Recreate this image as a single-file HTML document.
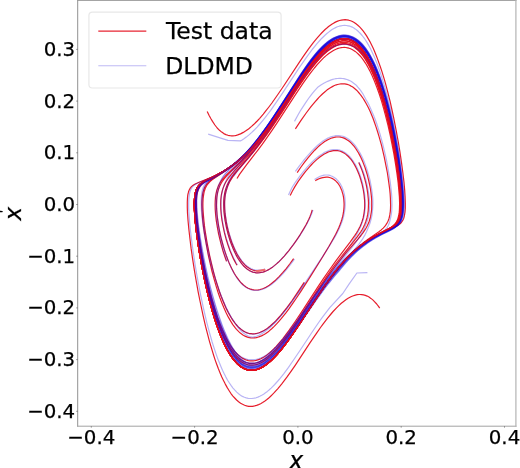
<!DOCTYPE html><html><head><meta charset="utf-8"><title>Phase portrait</title><style>html,body{margin:0;padding:0;background:#fff}svg{display:block}text{font-family:"DejaVu Sans","Liberation Sans",sans-serif;fill:#000;stroke:#000;stroke-width:0.25px}</style></head><body>
<svg width="520" height="468" viewBox="0 0 520 468">
<rect x="0" y="0" width="520" height="468" fill="#fff"/>
<clipPath id="c"><rect x="77.7" y="0.4" width="438.09999999999997" height="425.8"/></clipPath>
<g clip-path="url(#c)">
<polyline points="207.2,111.4 209.0,115.2 210.8,118.5 212.5,121.4 214.9,125.0 217.2,128.0 219.5,130.3 221.7,132.1 223.8,133.6 225.9,134.6 228.0,135.3 230.1,135.7 231.5,135.8 232.8,135.8 234.9,135.6 236.3,135.3 237.7,134.9 239.1,134.4 240.5,133.9 243.3,132.4 245.5,131.1 248.5,129.0 251.6,126.4 253.9,124.3 257.2,121.0 259.7,118.3 263.3,114.2 266.0,110.7 268.9,107.0 271.9,103.0 278.2,94.0 284.0,85.5 299.6,61.8 304.0,55.4 308.6,48.9 313.3,42.6 316.6,38.6 319.9,34.8 321.6,33.0 325.1,29.5 326.9,28.0 328.6,26.5 330.4,25.2 332.2,23.9 334.0,22.9 335.9,21.9 337.7,21.1 339.5,20.5 341.4,20.1 343.2,19.8 345.1,19.7 346.9,19.9 348.7,20.2 350.6,20.8 352.4,21.5 354.2,22.5 356.0,23.8 357.8,25.2 359.6,26.9 361.4,28.8 363.1,30.9 364.9,33.3 366.6,35.9 368.2,38.6 369.9,41.6 371.5,44.8 373.1,48.1 374.6,51.6 376.1,55.3 377.6,59.1 380.4,67.0 381.8,71.1 384.4,79.6 385.6,83.9 387.9,92.6 390.1,101.4 392.0,110.0 393.8,118.4 396.2,130.6 398.3,142.0 400.0,152.4 401.4,161.9 402.9,173.0 404.0,182.3 404.7,190.2 405.1,196.7 405.3,203.2 405.3,208.2 405.0,212.1 404.7,214.0 404.4,215.7 404.1,217.1 403.7,218.4 403.2,219.5 402.6,220.7 401.9,221.7 401.1,222.8 400.1,223.7 399.1,224.5 397.9,225.4 396.4,226.2 393.7,227.5 385.0,231.3 380.0,233.6 374.8,236.3 369.9,239.3 367.4,240.9 364.8,242.7 362.4,244.4 360.0,246.3 357.4,248.5 355.1,250.4 352.8,252.5 350.3,254.9 347.8,257.5 345.0,260.4 342.2,263.5 339.8,266.3 334.6,272.7 328.8,280.3 323.2,288.2 318.0,295.8 312.3,304.5 300.3,322.9 292.9,333.9 288.9,339.5 286.2,343.3 281.9,348.8 279.0,352.3 276.0,355.7 274.5,357.3 271.4,360.3 268.3,363.0 266.7,364.3 265.1,365.4 263.5,366.5 261.8,367.4 260.2,368.3 258.6,368.9 256.9,369.5 255.3,369.9 253.6,370.2 252.0,370.3 250.3,370.3 248.6,370.1 247.0,369.7 245.3,369.1 243.7,368.4 242.1,367.5 240.4,366.4 238.8,365.2 237.2,363.7 235.6,362.1 234.1,360.2 232.5,358.3 231.0,356.1 229.5,353.8 228.0,351.3 226.6,348.6 225.1,345.8 223.7,342.9 222.4,339.9 219.7,333.4 218.5,330.1 216.0,323.1 213.7,315.9 211.6,308.5 209.6,301.1 207.7,293.7 206.0,286.4 204.4,279.2 203.0,272.3 201.1,262.4 199.5,253.3 198.2,244.9 197.1,237.3 196.0,228.3 195.4,222.5 194.8,215.7 194.4,210.1 194.3,204.3 194.4,200.6 194.6,197.4 195.0,194.8 195.4,192.7 196.0,190.4 196.8,188.6 197.6,187.1 198.7,185.6 199.7,184.6 200.7,183.7 202.0,182.8 203.5,181.8 206.3,180.2 215.3,175.8 220.4,173.1 223.3,171.4 226.0,169.7 228.5,168.1 231.1,166.3 233.9,164.2 236.3,162.3 238.9,160.1 241.2,158.2 244.1,155.5 246.6,153.0 251.4,148.0 255.5,143.3 259.3,138.7 263.4,133.4 267.9,127.5 272.7,120.7 278.0,113.0 282.7,105.8 296.9,84.1 300.6,78.5 304.4,72.9 308.5,67.3 312.7,61.8 317.0,56.5 320.0,53.1 323.1,50.0 324.6,48.5 327.8,45.8 329.4,44.5 331.0,43.4 332.6,42.4 334.2,41.5 335.9,40.7 337.5,40.0 339.1,39.4 340.8,39.1 342.4,38.8 344.1,38.7 345.8,38.8 347.4,39.0 349.1,39.4 350.7,40.0 352.4,40.7 354.0,41.7 355.6,42.8 357.2,44.1 358.8,45.6 360.4,47.2 362.0,49.1 363.5,51.1 365.0,53.3 366.5,55.6 368.0,58.2 369.4,60.8 370.9,63.6 372.3,66.6 373.6,69.6 376.3,76.1 377.5,79.5 380.0,86.5 381.1,90.1 383.3,97.4 385.4,104.8 387.3,112.2 389.1,119.6 390.7,126.8 392.2,133.8 394.2,143.8 395.3,150.2 396.8,159.1 398.0,167.2 399.1,174.5 399.9,181.0 400.6,188.6 401.1,195.0 401.4,200.4 401.5,204.8 401.4,208.6 401.1,212.4 400.6,215.4 400.0,217.8 399.6,219.0 399.1,220.1 398.7,221.1 398.0,222.2 396.7,223.8 395.7,224.8 394.7,225.6 393.4,226.6 391.8,227.5 388.9,229.1 381.8,232.5 378.1,234.5 374.0,236.7 370.4,238.9 366.8,241.2 363.4,243.6 360.2,246.1 356.8,248.9" fill="none" stroke="#e40c1c" stroke-opacity="0.93" stroke-width="1.2" stroke-linejoin="round"/>
<polyline points="208.2,134.1 227.9,140.4 240.4,140.9 241.7,140.2 243.6,139.0 246.3,137.1 249.0,134.9 251.8,132.4 254.0,130.3 257.1,127.1 259.4,124.5 262.7,120.6 265.3,117.4 267.9,114.0 270.7,110.3 273.6,106.2 277.6,100.4 283.0,92.4 299.1,67.9 303.3,61.8 307.7,55.6 312.2,49.5 317.0,43.6 320.2,40.0 321.9,38.2 325.2,35.0 326.9,33.5 328.7,32.1 330.4,30.8 332.1,29.6 333.9,28.5 335.6,27.6 337.4,26.8 339.2,26.2 341.0,25.8 342.8,25.5 344.6,25.4 346.3,25.5 348.1,25.8 349.9,26.2 351.7,26.9 353.5,27.8 355.2,28.9 357.0,30.3 358.7,31.8 360.4,33.5 362.1,35.5 363.8,37.7 365.5,40.0 367.1,42.6 368.7,45.4 370.3,48.3 371.8,51.4 373.3,54.7 374.8,58.1 376.3,61.7 377.7,65.3 380.4,73.0 381.7,77.0 384.2,85.1 385.4,89.2 387.6,97.5 390.7,110.0 392.5,118.1 394.1,126.1 395.6,133.7 397.6,144.5 399.3,154.5 400.6,163.5 401.7,171.6 402.6,178.8 403.3,185.2 403.9,192.4 404.3,198.4 404.4,203.4 404.4,207.4 404.1,211.5 403.7,214.7 403.1,217.2 402.7,218.5 402.1,219.9 401.6,220.9 401.0,222.0 400.2,222.9 399.5,223.7 398.7,224.4 397.7,225.2 395.8,226.5 393.3,227.8 382.6,232.6 377.1,235.3 371.9,238.2 367.0,241.3 364.0,243.4 361.2,245.4 358.2,247.8 355.5,250.0 352.7,252.5 349.6,255.3 347.0,258.0 344.2,260.9 340.0,265.5 335.4,270.8 331.1,276.1 327.2,281.0 322.3,287.7 316.8,295.3 310.9,303.9 298.6,322.1 293.5,329.3 289.5,334.8 284.0,342.1 279.7,347.4 275.2,352.4 272.2,355.5 269.2,358.4 267.7,359.6 264.6,362.0 263.1,363.0 261.6,363.9 260.1,364.7 258.6,365.4 257.2,365.9 255.7,366.3 254.4,366.6 253.0,366.8 250.3,366.8 249.1,366.6 247.7,366.3 246.4,365.9 245.0,365.3 243.6,364.5 242.2,363.6 240.7,362.5 239.3,361.1 237.8,359.7 236.3,358.0 234.8,356.1 233.4,354.0 231.9,351.8 230.4,349.4 229.0,346.8 227.6,344.1 226.2,341.3 223.4,335.2 220.8,328.6 218.3,321.8 217.1,318.2 214.8,311.0 212.6,303.7 209.7,292.6 207.0,281.8 204.8,271.5 202.2,258.5 200.2,246.9 198.6,236.7 197.2,225.8 196.2,217.0 195.9,212.5 195.7,208.6 195.6,205.2 195.6,201.3 195.7,198.1 195.9,195.5 196.2,193.8 196.6,191.9 197.1,190.3 197.6,189.0 198.2,187.8 199.0,186.6 199.9,185.6 201.0,184.5 202.9,183.1 205.3,181.6 207.7,180.3 215.9,176.1 221.0,173.2 226.3,169.9 230.9,166.7 233.6,164.6 236.5,162.3 239.0,160.1 241.7,157.6 244.1,155.4 246.5,152.9 249.1,150.1 251.8,147.0 255.9,142.1 259.6,137.3 265.1,129.9 270.5,122.4 274.7,116.2 279.2,109.4 293.8,86.8 299.9,77.6 303.7,72.0 307.7,66.3 311.9,60.7 314.7,57.1 317.7,53.6 319.2,51.9 322.3,48.7 325.5,45.7 327.1,44.4 328.7,43.1 330.4,41.9 332.0,40.9 333.7,39.9 335.4,39.0 337.2,38.3 339.0,37.7 340.7,37.3 342.5,37.1 344.3,37.0 346.2,37.1 348.0,37.4 349.8,37.8 351.6,38.5 353.4,39.4 355.2,40.4 356.9,41.7 358.6,43.1 360.2,44.7 361.9,46.4 363.5,48.4 365.0,50.5 366.6,52.8 368.1,55.2 369.6,57.8 371.0,60.5 372.5,63.4 373.8,66.4 375.2,69.5 377.8,76.1 379.1,79.5 381.5,86.6 382.6,90.2 384.8,97.6 386.8,105.0 388.7,112.5 390.4,119.8 392.0,127.1 393.4,134.1 395.3,144.1 396.5,150.5 397.9,159.3 399.1,167.4 400.3,177.0 401.0,183.2 401.7,190.5 402.1,196.6 402.3,201.7 402.3,206.0 402.1,210.4 401.7,213.2 401.3,215.6 400.8,217.6 400.2,219.3 399.5,220.8 398.6,222.3 397.7,223.6 396.4,224.8 395.4,225.7 394.3,226.6 392.9,227.4 391.5,228.2 388.8,229.6 379.1,234.3 375.4,236.2 372.2,238.1 369.1,240.0 365.8,242.1 362.6,244.3 359.8,246.5 356.2,249.3 352.9,252.2 349.4,255.5 346.2,258.6 342.7,262.3 339.0,266.3 335.0,271.0 331.4,275.3" fill="none" stroke="#1808dc" stroke-opacity="0.3" stroke-width="1.2" stroke-linejoin="round"/>
<polyline points="379.7,308.2 378.7,306.7 376.7,304.0 374.7,301.8 372.8,299.9 370.9,298.4 369.0,297.1 367.2,296.1 365.3,295.4 363.5,294.9 361.7,294.6 359.9,294.5 359.0,294.5 357.2,294.7 355.4,295.1 352.7,296.0 350.9,296.8 348.1,298.3 346.2,299.5 343.3,301.7 341.3,303.3 338.3,306.1 336.3,308.1 333.1,311.5 331.0,314.0 327.6,318.1 323.0,324.2 320.5,327.5 316.8,332.9 310.1,342.7 295.2,365.3 290.3,372.4 286.9,377.2 281.6,384.1 277.9,388.6 274.2,392.7 272.3,394.6 270.4,396.5 268.5,398.2 266.6,399.8 264.6,401.2 262.6,402.5 260.6,403.7 258.6,404.6 256.6,405.4 254.6,405.9 252.6,406.3 250.6,406.4 248.6,406.3 246.6,405.9 244.6,405.2 242.6,404.3 240.6,403.2 238.6,401.7 236.6,400.0 234.7,398.0 232.7,395.8 230.8,393.3 229.0,390.5 227.1,387.4 225.3,384.1 223.5,380.6 221.8,376.9 220.1,372.9 218.4,368.8 216.8,364.5 215.2,360.1 213.7,355.5 210.8,345.9 209.4,341.1 206.8,331.2 205.5,326.2 203.2,316.2 200.1,301.5 198.2,292.1 195.8,278.7 194.4,270.3 192.6,258.8 191.1,248.4 190.0,239.3 188.8,228.8 188.0,220.2 187.5,213.2 187.3,207.5 187.3,202.0 187.5,197.7 187.7,195.7 188.0,193.9 188.4,192.5 188.7,191.2 189.2,190.1 189.8,188.9 190.4,187.9 191.1,187.0 192.0,186.1 193.1,185.2 194.3,184.5 195.7,183.7 199.0,182.3 208.3,178.6 212.9,176.7 215.7,175.3 218.4,174.0 221.2,172.5 223.8,171.0 226.6,169.3 229.1,167.6 231.7,165.8 234.1,164.0 236.6,162.0 239.2,159.9 243.9,155.6 246.4,153.2 249.0,150.5 251.8,147.5 254.7,144.2 257.8,140.5 260.4,137.3 266.1,129.9 271.6,122.3 276.7,114.8 282.3,106.3 296.4,84.7 300.1,79.2 304.0,73.6 308.0,68.0 310.7,64.3 315.0,58.8 318.0,55.4 321.0,52.1 322.5,50.5 325.6,47.6 328.8,44.9 330.4,43.8 332.0,42.7 333.6,41.7 335.3,40.9 336.9,40.2 338.5,39.6 340.2,39.1 341.8,38.8 343.5,38.7 345.2,38.7 346.8,38.9 348.5,39.2 350.1,39.7 351.8,40.4 353.4,41.3 355.0,42.3 356.6,43.6 358.2,45.0 359.8,46.6 361.4,48.4 362.9,50.3 364.5,52.4 366.0,54.7 367.5,57.2 368.9,59.8 370.4,62.6 371.8,65.4 373.1,68.5 374.5,71.6 377.1,78.2 378.3,81.6 380.7,88.7 382.9,96.0 385.0,103.4 387.0,110.8 388.8,118.2 390.4,125.5 392.7,136.0 394.0,142.7 395.7,152.1 397.1,160.8 398.3,168.8 399.5,178.1 400.4,186.1 401.0,192.9 401.4,198.6 401.5,204.5 401.4,209.1 401.1,212.1 400.8,214.6 400.3,216.7 399.8,218.5 399.1,220.3 398.2,221.8 397.1,223.3 396.0,224.5 394.9,225.4 393.9,226.2 391.2,227.9 388.5,229.3 379.4,233.8 376.1,235.5 373.2,237.2 368.4,240.1 363.6,243.5 360.8,245.6 357.8,248.0 354.7,250.8 351.8,253.4 348.8,256.4 346.2,259.1 343.4,262.2 340.4,265.6 335.9,271.0 331.8,276.3 327.3,282.4 323.3,288.1 319.8,293.1 315.2,300.0 298.0,326.4 292.9,333.8 289.0,339.4 284.8,345.0 282.0,348.6 277.6,353.9 274.6,357.1 271.5,360.2 269.9,361.6 266.8,364.2 265.2,365.4 263.6,366.4 261.9,367.4 260.3,368.2 258.7,368.9 257.0,369.4 255.4,369.9 253.7,370.2 252.1,370.3 250.4,370.3 248.7,370.1 247.1,369.7 245.4,369.2 243.8,368.4 242.2,367.5 240.5,366.5 238.9,365.2 237.3,363.8 235.7,362.1 234.2,360.3 232.6,358.3 231.1,356.2 229.6,353.9 228.1,351.4 226.7,348.8 225.2,346.0 223.8,343.1 221.1,336.9 219.8,333.6 217.3,326.8 216.1,323.3 213.8,316.1 211.6,308.7 209.6,301.3 207.8,293.9 206.1,286.6 204.5,279.5 203.1,272.5 201.8,265.9 200.1,256.4 198.6,247.7 197.5,239.9 196.5,232.7 195.8,226.4 195.2,220.8 194.7,214.3 194.4,208.9 194.3,203.4 194.4,199.8 194.7,196.8 195.1,194.3 195.6,191.7 196.3,189.7 197.3,187.7 198.3,186.1 199.7,184.6 200.5,183.9 201.5,183.1 204.0,181.5 206.6,180.1 214.7,176.1 219.5,173.6 224.3,170.8 228.9,167.9 231.5,166.0 233.9,164.3 238.5,160.5 243.1,156.4 247.6,152.0" fill="none" stroke="#e40c1c" stroke-opacity="0.93" stroke-width="1.2" stroke-linejoin="round"/>
<polyline points="367.4,272.7 356.9,273.0 349.2,283.8 342.8,293.5 330.0,307.3 326.9,311.3 322.5,317.1 319.0,322.0 314.2,329.0 299.3,351.5 293.2,360.5 288.5,367.4 283.5,374.1 280.1,378.4 278.3,380.5 274.7,384.5 272.9,386.3 271.1,388.1 269.3,389.8 267.4,391.4 265.5,392.8 263.6,394.2 261.7,395.3 259.8,396.3 257.9,397.1 256.0,397.8 254.0,398.2 252.1,398.5 250.2,398.5 248.2,398.3 246.3,397.9 244.4,397.3 242.4,396.4 240.5,395.2 238.6,393.8 236.7,392.1 234.9,390.2 233.0,388.1 231.2,385.7 229.4,383.0 227.6,380.2 225.9,377.1 224.2,373.7 222.5,370.2 220.9,366.5 219.3,362.6 217.7,358.6 216.2,354.4 213.3,345.7 211.9,341.2 209.3,332.0 206.8,322.6 205.7,317.9 203.5,308.5 200.6,294.8 198.1,281.8 196.6,273.5 195.3,265.8 193.1,251.7 192.3,245.4 191.2,236.8 190.3,229.3 189.7,222.8 189.2,217.1 188.9,212.3 188.7,208.1 188.7,203.5 188.8,199.7 189.1,196.7 189.5,193.7 190.1,191.4 190.5,190.2 191.0,189.2 191.5,188.4 192.1,187.4 192.8,186.5 193.6,185.8 194.5,185.1 195.5,184.4 196.8,183.7 198.5,182.9 209.5,178.4 213.0,176.8 216.1,175.3 219.8,173.4 223.3,171.4 226.3,169.5 229.6,167.3 232.2,165.4 234.6,163.6 237.1,161.5 239.2,159.6 241.5,157.6 243.9,155.3 248.4,150.7 252.8,145.8 257.5,140.0 263.5,132.1 268.7,124.9 272.8,119.1 278.1,111.2 293.6,87.2 300.8,76.2 304.7,70.5 308.7,64.8 311.5,61.1 314.4,57.4 317.3,53.9 318.8,52.2 321.9,49.0 323.5,47.4 326.7,44.6 328.3,43.3 329.9,42.1 331.6,41.0 333.3,40.0 335.0,39.1 336.8,38.3 338.5,37.7 340.3,37.3 342.1,37.0 344.0,36.8 345.8,36.9 347.6,37.1 349.5,37.6 351.3,38.2 353.1,39.0 354.8,40.0 356.6,41.2 358.3,42.6 360.0,44.2 361.6,45.9 363.2,47.8 364.8,49.9 366.4,52.1 367.9,54.5 369.4,57.1 370.8,59.8 372.3,62.7 373.7,65.6 375.1,68.7 377.7,75.3 378.9,78.7 381.4,85.7 383.6,93.0 384.7,96.7 386.8,104.1 389.6,115.3 392.0,126.2 394.2,136.7 396.0,146.6 398.0,158.7 399.9,171.8 401.2,182.8 402.1,191.7 402.4,196.3 402.5,200.2 402.6,203.7 402.5,206.8 402.4,209.4 402.1,212.4 401.8,214.4 401.4,216.6 401.0,218.1 400.4,219.7 399.9,220.8 399.2,222.1 398.4,223.2 397.6,224.2 396.8,225.1 395.7,226.0 393.7,227.5 391.1,229.0 388.6,230.2 380.8,234.0 375.1,237.0 370.5,239.8 365.9,242.9 363.2,244.8 360.3,247.0 357.8,249.1 355.1,251.4 352.2,254.1 349.7,256.5 344.8,261.6 340.7,266.2 333.3,275.0 328.8,280.7 323.9,287.2 319.4,293.4 314.6,300.2 300.5,321.0 296.8,326.4 291.6,333.6 286.1,341.0 281.8,346.4 277.4,351.6 274.4,354.8 272.8,356.3 269.8,359.2 266.6,361.8 265.1,362.9 263.5,364.0 262.0,364.9 260.4,365.7 258.9,366.4 257.4,367.0 255.9,367.4 254.4,367.7 253.0,367.9 250.1,367.8 248.7,367.7 247.3,367.3 245.9,366.8 244.4,366.2 242.9,365.3 241.4,364.3 239.9,363.1 238.4,361.8 236.9,360.2 235.4,358.4 233.8,356.5 232.4,354.4 230.9,352.1 229.4,349.7 227.9,347.1 226.5,344.3 225.1,341.4 222.4,335.3 221.1,332.0 218.5,325.2 217.3,321.7 214.9,314.6 213.8,310.9 211.7,303.6 209.7,296.2 207.8,288.9 206.1,281.7 204.6,274.7 203.2,268.0 201.4,258.4 200.3,252.4 199.0,244.1 197.9,236.6 197.0,229.8 196.3,223.8 195.8,218.5 195.4,213.8 195.1,208.5 195.0,203.1 195.1,199.6 195.3,196.6 195.7,193.7 196.0,192.2 196.5,190.5 197.1,189.1 197.7,187.8 198.4,186.8 199.3,185.7 200.2,184.7 201.2,183.8 203.1,182.5 205.4,181.1 215.5,175.9 220.3,173.3 224.8,170.6 228.6,168.0 231.2,166.2 233.5,164.4 238.1,160.7 242.6,156.6 245.0,154.2 247.5,151.6 251.7,146.8 255.8,141.9 259.5,137.1 265.8,128.7 270.4,122.1 275.5,114.7 281.0,106.2 288.2,95.2" fill="none" stroke="#1808dc" stroke-opacity="0.3" stroke-width="1.2" stroke-linejoin="round"/>
<polyline points="295.4,128.8 301.0,120.4 306.2,113.0 311.0,106.7 315.0,101.8 317.1,99.5 319.2,97.2 322.4,94.0 324.7,92.0 326.9,90.1 329.2,88.5 330.4,87.7 332.8,86.4 333.9,85.8 336.3,84.8 337.5,84.5 339.9,84.0 341.1,83.8 342.3,83.8 343.5,83.8 344.8,83.9 346.0,84.1 347.2,84.4 348.4,84.8 349.6,85.3 350.7,85.9 351.9,86.6 353.1,87.3 354.3,88.2 356.6,90.2 357.7,91.4 359.9,94.0 361.0,95.4 363.2,98.5 364.2,100.1 366.3,103.7 368.3,107.5 370.2,111.6 372.9,118.0 374.5,122.5 376.1,127.1 377.6,131.8 379.0,136.4 381.6,145.7 382.7,150.3 384.2,156.9 386.3,167.3 387.4,173.0 388.2,178.4 388.9,183.3 389.7,189.4 390.1,193.4 390.4,198.3 390.5,201.5 390.6,205.3 390.5,208.7 390.3,211.6 389.9,214.2 389.4,217.0 389.0,218.4 388.4,220.2 387.7,221.7 387.0,223.1 386.2,224.4 385.4,225.6 384.3,226.9 383.2,228.1 381.2,229.9 378.6,231.9 368.4,239.1 364.0,242.3 360.1,245.5 356.7,248.3 352.1,252.6 347.6,257.1 343.2,261.9 338.4,267.5 334.5,272.4 331.0,276.9 326.5,283.1 322.4,288.9 315.2,299.6 298.0,325.9 293.0,333.3 289.1,338.9 284.9,344.5 280.7,349.9 277.7,353.3 276.2,355.0 273.2,358.2 270.1,361.1 268.5,362.4 266.9,363.7 265.3,364.8 263.7,365.9 262.1,366.8 260.5,367.7 258.8,368.4 257.2,369.0 255.6,369.4 253.9,369.7 252.3,369.9 250.6,369.9 249.0,369.7 247.3,369.3 245.7,368.8 244.0,368.1 242.4,367.3 240.8,366.2 239.2,365.0 237.6,363.6 236.0,362.0 234.4,360.2 232.9,358.2 231.3,356.1 229.8,353.8 228.4,351.4 226.9,348.8 225.5,346.0 224.1,343.2 222.7,340.1 221.4,337.0 218.8,330.4 217.5,327.0 215.2,320.0 214.0,316.4 211.9,309.0 208.9,297.9 207.1,290.6 205.4,283.4 203.9,276.3 201.9,266.2 200.2,256.8 198.8,248.1 197.6,240.2 196.4,230.9 195.7,224.7 195.0,217.7 194.6,211.7 194.4,206.7 194.4,202.6 194.6,198.3 195.0,195.0 195.3,193.3 195.7,191.8 196.1,190.5 196.5,189.4 197.0,188.4 197.7,187.2 198.4,186.1 199.1,185.3 199.9,184.5 200.9,183.6 202.9,182.2 205.2,180.8 207.6,179.6 215.9,175.5 221.4,172.5 226.1,169.7 230.8,166.5 233.5,164.5 236.4,162.2 239.0,160.1 241.8,157.7 244.6,155.0 247.2,152.4 252.1,147.2 256.3,142.4 260.8,136.9 265.7,130.4 270.4,124.0 274.5,118.0 279.0,111.3 294.7,87.4 299.5,80.1 304.7,72.6 308.7,67.0 312.9,61.5 317.3,56.2 320.3,52.9 321.8,51.3 324.9,48.3 328.0,45.6 329.6,44.4 331.2,43.2 332.9,42.2 334.5,41.3 336.1,40.5 337.8,39.9 339.4,39.4 341.1,39.0 342.7,38.8 344.4,38.7 346.0,38.8 347.7,39.1 349.3,39.5 351.0,40.1 352.6,40.9 354.3,41.8 355.9,43.0 357.5,44.3 359.1,45.8 360.7,47.5 362.2,49.4 363.8,51.5 365.3,53.7 366.8,56.0 368.2,58.6 369.7,61.3 371.1,64.1 373.8,70.1 376.5,76.6 377.7,80.0 380.1,87.1 382.4,94.3 383.5,98.0 385.6,105.4 388.4,116.5 390.8,127.4 392.3,134.4 393.6,141.1 395.9,153.7 397.7,165.0 399.4,177.1 400.5,187.1 400.9,192.2 401.2,196.7 401.4,200.6 401.5,204.0 401.5,206.9 401.3,210.3 401.0,213.1 400.6,215.5 400.1,217.4 399.4,219.5 399.0,220.5 398.3,221.7 397.8,222.5 397.0,223.4 396.3,224.3 395.5,225.0 393.5,226.4 392.0,227.4 390.1,228.4 380.1,233.4 377.1,235.0 374.3,236.5 371.4,238.3 368.6,240.0 365.7,242.0 363.0,244.0 358.5,247.5 354.0,251.4 349.6,255.6 345.3,260.0 340.7,265.3 336.2,270.6 331.4,276.8 326.1,284.1 322.0,290.0 316.6,297.9 300.9,322.0 294.8,331.1 289.6,338.6 286.8,342.3 284.1,346.0 281.2,349.6 278.3,353.1 275.2,356.4 272.2,359.5 269.1,362.4 267.5,363.7 265.9,364.9 264.3,366.0 262.6,367.0 261.0,367.8 259.4,368.6 257.7,369.2 256.1,369.7 254.4,370.1 252.8,370.2 251.1,370.3 249.5,370.2 247.8,369.9 246.2,369.4 244.5,368.8 242.9,368.0 241.2,367.0 239.6,365.8 238.0,364.4 236.4,362.9 234.9,361.1 233.3,359.2 231.8,357.2 230.3,354.9 228.8,352.5 227.3,349.9 225.9,347.2 224.4,344.4 223.1,341.4 220.4,335.1 217.8,328.3 215.4,321.3" fill="none" stroke="#e40c1c" stroke-opacity="0.93" stroke-width="1.2" stroke-linejoin="round"/>
<polyline points="294.5,121.4 298.1,114.8 300.4,110.7 301.3,109.4 305.7,102.6 308.5,98.5 310.5,95.9 312.6,93.2 314.7,90.6 318.1,86.9 320.9,85.0 323.8,83.3 326.7,81.8 328.2,81.1 331.2,79.9 332.8,79.4 334.3,79.0 335.9,78.7 337.5,78.5 339.1,78.4 340.8,78.4 342.3,78.5 343.9,78.7 345.5,79.1 347.0,79.5 348.5,80.1 350.0,80.7 351.4,81.5 352.7,82.4 354.0,83.4 355.3,84.4 356.5,85.5 357.6,86.8 359.9,89.5 360.9,90.9 363.0,94.0 363.9,95.7 365.8,99.3 367.9,102.9 368.9,104.8 370.8,108.9 373.5,115.3 375.3,119.7 376.9,124.3 378.4,129.0 379.9,133.7 381.2,138.4 382.5,143.1 383.6,147.7 385.2,154.4 386.2,158.8 387.4,165.0 388.4,170.9 389.6,178.2 390.4,183.2 390.9,187.8 391.4,192.0 391.8,197.0 391.9,200.4 392.0,204.4 391.9,208.0 391.7,211.1 391.4,213.9 390.9,216.5 389.6,221.9 389.2,223.3 388.7,224.6 388.1,225.8 387.3,227.1 386.5,228.3 385.6,229.3 384.1,230.5 382.0,232.0 372.6,237.6 367.1,241.1 362.5,244.4 357.9,248.0 355.2,250.3 352.4,252.8 349.8,255.2 347.2,257.8 342.1,263.2 336.3,269.7 332.8,273.9 329.0,278.6 325.0,283.8 320.7,289.6 317.0,294.7 312.1,301.7 298.8,321.2 292.4,330.1 286.9,337.4 282.7,342.8 278.4,348.0 273.9,352.9 270.9,355.9 267.8,358.5 266.3,359.8 263.3,362.0 261.8,362.9 260.3,363.7 258.9,364.4 257.5,364.9 256.1,365.4 254.7,365.7 253.3,365.8 250.8,365.9 249.5,365.8 248.3,365.6 247.0,365.2 245.7,364.7 244.4,364.0 243.0,363.1 241.6,362.1 240.1,360.8 238.7,359.5 237.3,357.8 235.8,356.0 234.3,354.1 232.9,351.9 231.4,349.6 230.0,347.1 228.6,344.5 227.2,341.7 224.4,335.7 223.1,332.6 220.5,326.0 219.3,322.5 216.9,315.5 215.7,311.9 213.5,304.6 211.5,297.3 209.6,290.0 207.8,282.9 206.2,275.9 204.7,269.1 202.8,259.5 201.2,250.6 199.9,242.5 198.8,235.1 197.9,228.5 197.2,222.7 196.5,216.0 196.1,210.3 195.9,205.6 195.9,200.8 196.0,197.7 196.3,194.6 196.6,193.0 196.9,191.7 197.7,189.5 198.1,188.6 198.7,187.5 199.4,186.6 200.1,185.7 200.8,185.0 201.7,184.2 203.4,183.0 205.6,181.6 215.4,176.5 220.1,173.9 225.6,170.5 230.2,167.3 232.9,165.3 235.3,163.4 237.7,161.2 240.3,158.9 242.6,156.7 245.0,154.3 247.5,151.7 250.1,148.8 253.9,144.2 258.1,138.8 264.9,129.7 270.2,122.2 273.5,117.3 277.9,110.6 293.5,86.5 300.7,75.5 304.6,69.8 308.6,64.1 312.8,58.5 317.3,53.1 320.3,49.8 321.9,48.2 325.0,45.2 326.7,43.8 328.3,42.5 330.0,41.3 331.7,40.2 333.4,39.2 335.2,38.4 337.0,37.6 338.8,37.0 340.6,36.6 342.5,36.3 344.4,36.2 346.3,36.3 348.2,36.6 350.1,37.1 351.9,37.8 353.8,38.7 355.6,39.8 357.3,41.1 359.1,42.5 360.8,44.2 362.4,46.0 364.0,48.0 365.6,50.1 367.2,52.4 368.7,54.9 370.2,57.5 371.7,60.2 373.1,63.1 374.5,66.2 377.2,72.5 378.4,75.9 380.9,82.8 383.2,90.0 384.3,93.7 386.4,101.2 389.3,112.4 391.8,123.4 393.3,130.5 394.6,137.4 397.0,150.4 398.8,162.1 400.5,174.7 401.3,181.2 401.9,187.0 402.3,192.1 402.6,196.6 402.7,200.5 402.8,204.0 402.7,207.0 402.5,209.6 402.2,212.6 401.8,215.1 401.2,217.2 400.6,219.0 400.2,220.2 399.6,221.2 398.5,223.0 397.9,223.8 397.1,224.7 396.2,225.5 395.1,226.3 393.1,227.7 390.7,229.0 381.2,233.5 375.5,236.4 370.9,239.1 366.2,242.0 363.5,243.9 360.7,246.0 358.1,248.0 355.4,250.2 352.5,252.7 350.0,255.0 345.1,259.8 340.3,264.9 334.3,271.8 329.0,278.1 324.1,284.4 318.7,291.5 313.9,298.2 308.7,305.5 297.2,322.1 289.3,332.8 285.2,338.2 282.3,341.8 279.4,345.3 276.5,348.7 273.5,351.8 270.5,354.8 267.5,357.5 265.9,358.7 264.4,359.8 261.5,361.7 260.1,362.5 258.7,363.2 257.4,363.7 256.0,364.2 254.8,364.5 253.5,364.6 252.3,364.7 250.2,364.7 249.0,364.5 247.8,364.2 246.7,363.9 245.5,363.3 244.2,362.6 242.8,361.7 241.5,360.6 240.1,359.3 238.7,357.8 237.2,356.2 235.8,354.3 234.3,352.3 232.9,350.1 231.4,347.7 230.0,345.1 228.6,342.4 227.2,339.6 224.4,333.4 221.8,326.9 219.2,320.1" fill="none" stroke="#1808dc" stroke-opacity="0.3" stroke-width="1.2" stroke-linejoin="round"/>
<polyline points="297.2,172.6 301.0,167.0 304.6,162.1 308.2,157.6 311.6,153.6 314.7,150.2 318.1,146.9 319.9,145.3 321.7,143.9 324.7,141.6 326.6,140.4 327.9,139.7 330.5,138.5 332.5,137.8 333.9,137.5 335.2,137.2 336.6,137.0 337.9,137.0 339.3,137.0 340.6,137.2 341.9,137.5 343.3,137.9 344.6,138.4 345.9,139.1 347.2,139.9 348.5,140.8 349.8,141.8 351.0,142.9 352.8,144.8 354.0,146.2 355.7,148.5 356.8,150.2 358.4,152.8 359.4,154.6 360.9,157.5 361.8,159.5 363.1,162.6 365.1,167.8 366.1,171.0 367.1,174.2 367.9,177.4 368.7,180.5 370.0,186.6 370.5,189.5 371.0,193.2 371.3,195.8 371.6,199.2 371.7,201.6 371.7,204.7 371.7,206.8 371.6,209.5 371.3,212.1 370.9,214.5 370.5,216.7 370.0,218.8 369.5,220.3 368.9,222.3 368.1,224.1 367.3,225.8 366.4,227.5 365.4,229.2 363.3,232.4 361.0,235.5 358.4,238.7 347.5,251.2 342.0,257.8 337.0,264.1 331.9,270.8 326.3,278.6 320.1,287.8 313.9,297.0 299.5,319.2 292.3,329.9 288.4,335.3 284.4,340.6 280.3,345.8 277.4,349.1 274.5,352.3 273.0,353.8 270.0,356.6 268.5,357.9 265.4,360.2 263.8,361.2 262.3,362.2 260.7,363.0 259.1,363.7 257.5,364.3 255.9,364.7 254.3,365.0 252.7,365.2 251.1,365.2 249.5,365.1 247.9,364.8 246.3,364.3 244.7,363.7 243.1,362.9 241.5,361.9 239.9,360.8 238.4,359.5 236.8,358.0 235.3,356.4 233.8,354.6 232.3,352.6 230.8,350.5 229.4,348.2 228.0,345.8 226.6,343.2 225.2,340.5 222.5,334.7 221.3,331.7 218.8,325.3 217.6,322.0 215.3,315.2 213.2,308.2 211.2,301.1 209.3,294.0 207.6,287.0 206.0,280.1 203.9,270.1 202.1,260.7 200.5,251.9 199.2,243.8 197.8,234.2 197.0,227.8 196.3,220.4 195.8,214.1 195.5,207.6 195.4,203.3 195.6,199.0 196.0,195.5 196.3,193.7 196.6,192.2 197.0,190.8 197.6,189.3 198.0,188.2 198.7,187.0 199.4,186.0 200.2,185.1 201.0,184.3 202.0,183.3 204.0,181.9 206.3,180.5 208.8,179.2 217.0,175.0 222.2,172.1 227.0,169.2 231.8,165.9 234.5,163.8 237.0,161.8 239.7,159.5 242.4,157.1 245.4,154.3 247.9,151.7 250.6,148.8 252.9,146.3 257.1,141.4 261.8,135.6 266.1,130.0 270.7,123.5 274.9,117.5 279.4,110.8 298.8,81.2 303.9,73.7 307.9,68.1 310.7,64.4 313.5,60.7 317.9,55.5 320.9,52.2 322.4,50.6 325.5,47.7 328.7,45.1 330.3,43.9 331.9,42.8 333.5,41.8 335.2,41.0 336.8,40.3 338.5,39.7 340.1,39.2 341.8,38.9 343.4,38.7 345.1,38.7 346.7,38.9 348.4,39.2 350.0,39.7 351.7,40.4 353.3,41.3 354.9,42.3 356.5,43.5 358.1,45.0 359.7,46.5 361.3,48.3 362.9,50.3 364.4,52.4 365.9,54.7 367.4,57.1 368.8,59.7 370.3,62.4 371.7,65.3 374.4,71.5 377.0,78.1 378.2,81.5 380.6,88.6 381.8,92.2 383.9,99.5 386.9,110.7 389.6,121.7 391.2,128.8 392.6,135.8 395.1,148.9 396.1,155.0 397.5,163.4 399.2,175.8 400.4,186.0 400.9,191.3 401.2,195.8 401.4,199.8 401.5,204.4 401.4,208.2 401.2,211.4 400.9,214.0 400.4,216.2 399.9,218.1 399.2,220.0 398.4,221.5 397.3,223.1 396.4,224.1 395.2,225.2 393.9,226.2 392.3,227.2 389.5,228.8 380.5,233.2 375.8,235.7 370.5,238.8 365.9,241.9 361.2,245.3 356.5,249.2 351.8,253.4 347.2,258.0 344.5,260.9 342.2,263.5 337.3,269.3 332.5,275.3 327.3,282.4 322.4,289.3 317.1,297.1 300.4,322.7 294.2,331.9 290.3,337.5 287.6,341.3 284.9,345.0 282.0,348.6 277.6,353.8 274.6,357.1 271.5,360.2 268.4,362.9 266.8,364.2 265.2,365.3 263.6,366.4 261.9,367.3 260.3,368.2 258.7,368.9 257.0,369.4 255.4,369.9 253.7,370.2 252.1,370.3 250.4,370.3 248.8,370.1 247.1,369.7 245.5,369.2 243.8,368.4 242.2,367.5 240.6,366.5 238.9,365.2 237.3,363.8 235.8,362.1 234.2,360.3 232.6,358.4 231.1,356.2 229.6,353.9 228.1,351.4 226.7,348.8 225.2,346.0 223.8,343.1 221.1,336.9 219.8,333.6 217.3,326.8 214.9,319.8 213.8,316.1 211.7,308.8 208.7,297.6 206.1,286.6" fill="none" stroke="#e40c1c" stroke-opacity="0.93" stroke-width="1.2" stroke-linejoin="round"/>
<polyline points="295.4,171.4 299.4,165.9 303.2,161.0 306.4,157.1 311.5,151.4 314.8,148.0 318.3,144.7 321.4,142.2 323.3,140.8 324.6,140.0 326.6,138.8 327.9,138.1 329.3,137.5 330.7,136.9 332.9,136.3 334.3,136.0 335.7,135.7 337.2,135.6 338.7,135.6 340.1,135.8 341.6,136.0 343.0,136.4 344.5,136.9 345.9,137.6 348.0,138.8 349.3,139.7 350.6,140.8 351.9,142.0 353.8,144.0 355.1,145.4 356.8,147.8 357.9,149.5 359.6,152.2 360.6,154.1 362.1,157.0 363.0,159.0 364.3,162.1 366.3,167.4 367.4,170.7 368.3,173.9 369.2,177.1 370.0,180.2 370.6,183.3 371.4,187.3 372.2,193.0 372.5,195.7 372.8,199.1 372.9,203.9 372.8,204.9 372.7,207.8 372.5,210.6 372.3,212.6 372.0,215.1 371.5,217.4 371.0,219.6 370.3,222.2 369.2,225.2 368.1,228.1 366.4,231.9 365.1,234.6 363.8,236.9 362.5,239.1 360.7,241.7 358.8,244.3 356.3,247.4 347.2,258.2 343.0,263.3 338.9,268.3 333.6,274.9 327.5,282.7 322.6,289.5 317.1,297.2 301.3,320.4 293.9,331.0 290.0,336.3 287.3,339.9 283.1,345.2 280.2,348.6 277.3,351.9 274.3,355.0 271.2,357.8 269.6,359.1 268.0,360.4 266.4,361.5 264.8,362.6 263.2,363.6 261.5,364.4 259.8,365.2 258.1,365.8 256.4,366.2 254.6,366.5 252.8,366.7 251.0,366.7 249.2,366.6 247.4,366.3 245.6,365.8 243.9,365.1 242.1,364.2 240.5,363.2 238.8,361.9 237.3,360.5 235.7,359.0 234.2,357.2 232.7,355.3 231.2,353.3 229.8,351.1 228.4,348.8 227.0,346.3 225.6,343.7 222.9,338.1 221.6,335.1 219.1,328.8 217.9,325.6 215.6,318.9 213.4,311.9 211.3,304.9 209.4,297.8 207.6,290.7 205.1,280.3 203.7,273.6 201.8,263.9 200.2,254.9 198.8,246.5 197.7,238.9 196.7,232.1 195.8,224.0 195.2,217.2 194.7,210.0 194.6,204.3 194.7,199.7 195.0,196.0 195.3,194.1 195.6,192.5 196.0,191.0 196.5,189.7 197.0,188.5 197.5,187.5 198.1,186.6 198.9,185.5 199.8,184.6 200.9,183.6 202.9,182.2 205.2,180.8 215.7,175.5 221.2,172.5 225.8,169.7 230.1,166.7 232.7,164.7 235.5,162.5 238.0,160.3 240.7,157.9 243.0,155.7 245.4,153.3 247.9,150.6 250.6,147.6 254.5,142.9 258.8,137.5 264.2,130.2 269.5,122.7 273.6,116.6 278.0,109.8 292.4,87.3 300.8,74.4 304.7,68.6 307.3,64.8 311.5,59.1 315.8,53.7 318.9,50.2 320.4,48.6 323.6,45.5 326.8,42.6 328.5,41.3 330.2,40.1 332.0,39.0 333.8,38.1 335.6,37.2 337.4,36.5 339.4,35.9 341.3,35.5 343.2,35.2 345.2,35.2 347.3,35.5 349.2,35.9 351.2,36.5 353.1,37.3 355.0,38.3 356.9,39.5 358.7,40.9 360.4,42.5 362.2,44.2 363.8,46.2 365.5,48.3 367.1,50.5 368.6,52.9 370.2,55.5 371.7,58.2 373.1,61.0 374.5,64.0 375.9,67.1 377.3,70.3 379.8,77.0 381.1,80.5 383.4,87.7 384.6,91.3 386.7,98.7 389.6,110.0 392.2,121.1 393.7,128.3 395.1,135.3 397.5,148.4 398.5,154.6 399.8,163.1 401.5,175.5 402.2,181.9 402.8,187.6 403.2,192.7 403.4,197.1 403.6,201.0 403.6,205.4 403.5,208.3 403.3,211.6 402.9,214.3 402.4,216.7 401.9,218.7 401.0,220.8 400.1,222.6 399.1,224.0 398.0,225.3 396.6,226.6 395.2,227.6 393.6,228.7 390.4,230.4 381.9,234.5 377.9,236.7 372.9,239.6 368.1,242.7 363.6,246.0 359.1,249.6 355.2,253.1 350.9,257.3 347.8,260.6 345.0,263.7 342.1,267.0 339.7,270.0 335.5,274.8 331.0,280.3 326.1,286.5 320.8,293.7 315.9,300.4 310.7,307.8 300.4,322.8 294.0,331.7 290.0,337.3 287.2,340.9 284.3,344.6 281.4,348.1 278.4,351.6 275.4,354.8 272.3,357.9 269.2,360.7 266.0,363.1 264.4,364.2 262.8,365.2 261.3,366.1 259.7,366.8 258.1,367.4 256.6,367.9 255.0,368.2 253.5,368.5 250.5,368.5 249.1,368.4 247.6,368.1 246.0,367.6 244.5,367.0 243.0,366.2 241.5,365.2 239.9,364.0 238.4,362.7 236.9,361.1 235.3,359.4 233.8,357.5 232.3,355.4 230.8,353.2 229.3,350.8 227.8,348.2 226.4,345.5 224.9,342.6 222.2,336.5 220.8,333.3 218.3,326.5 215.8,319.5 214.6,315.9 212.4,308.6 209.3,297.5 206.6,286.5" fill="none" stroke="#1808dc" stroke-opacity="0.3" stroke-width="1.2" stroke-linejoin="round"/>
<polyline points="290.2,195.6 291.2,193.4 292.3,191.2 294.9,186.6 298.2,181.4 301.8,176.4 305.4,171.6 309.3,167.1 311.2,165.0 313.2,162.9 316.7,159.6 319.9,157.0 322.8,154.9 324.3,154.0 325.9,153.2 327.4,152.4 329.0,151.8 330.6,151.3 332.2,150.9 333.8,150.7 334.9,150.6 336.5,150.6 337.6,150.7 339.2,151.0 340.2,151.3 341.8,151.9 343.4,152.7 344.9,153.6 345.9,154.4 346.9,155.2 348.4,156.5 349.8,158.1 351.2,159.7 352.1,160.9 353.3,162.8 354.6,164.9 355.7,167.0 356.8,169.2 357.8,171.5 358.8,173.9 359.7,176.3 360.5,178.7 361.4,182.0 362.1,184.4 362.8,187.6 363.3,190.0 363.8,193.1 364.1,195.4 364.4,198.4 364.6,200.5 364.7,203.3 364.7,206.0 364.6,208.5 364.3,211.0 364.0,213.3 363.6,215.6 363.2,217.7 362.6,219.8 361.9,221.9 361.2,223.8 360.2,226.2 359.0,228.5 357.8,230.8 356.4,233.1 354.9,235.4 352.6,238.7 350.1,242.2 340.0,255.4 335.7,261.2 328.3,271.5 323.4,278.6 318.7,285.6 302.0,311.4 295.2,321.5 289.2,330.2 285.3,335.4 282.7,338.8 278.6,343.7 275.8,346.9 274.3,348.3 271.4,351.2 270.0,352.5 267.0,354.9 265.5,356.0 264.0,357.0 262.4,357.9 260.9,358.7 259.3,359.4 257.8,359.9 256.2,360.4 254.7,360.7 253.1,360.9 251.5,360.9 250.0,360.8 248.4,360.6 246.9,360.2 245.3,359.6 243.8,358.9 242.2,358.1 240.7,357.0 239.2,355.8 237.7,354.5 236.2,352.9 234.7,351.3 233.2,349.4 231.8,347.4 230.4,345.3 229.0,343.0 227.6,340.6 226.3,338.1 223.7,332.6 222.4,329.8 219.9,323.7 217.6,317.4 215.4,310.8 213.4,304.1 210.5,293.8 208.8,287.1 206.5,277.1 204.5,267.5 202.7,258.5 201.2,250.0 200.0,242.3 198.7,233.0 197.7,225.0 197.0,218.1 196.5,210.9 196.4,205.1 196.4,200.4 196.6,198.0 196.8,196.0 197.1,194.2 197.4,192.6 197.8,191.2 198.4,189.5 198.9,188.4 199.5,187.2 200.2,186.1 201.0,185.1 202.0,184.1 203.0,183.1 205.0,181.6 207.4,180.2 209.9,178.8 217.9,174.6 223.2,171.5 228.1,168.5 232.6,165.3 235.4,163.1 237.9,161.0 240.6,158.7 242.9,156.6 245.9,153.8 248.5,151.1 251.2,148.2 253.5,145.6 257.8,140.6 262.5,134.7 266.9,128.9 271.6,122.3 275.9,116.1 280.4,109.3 294.1,88.3 298.9,81.1 304.0,73.6 308.0,68.0 312.2,62.4 315.1,58.9 318.0,55.4 319.5,53.7 322.6,50.5 325.7,47.6 327.2,46.3 328.8,45.0 330.4,43.8 332.0,42.8 333.7,41.8 335.3,41.0 336.9,40.2 338.6,39.7 340.2,39.2 341.9,38.9 343.5,38.8 345.2,38.8 346.8,38.9 348.5,39.3 350.1,39.8 351.8,40.5 353.4,41.4 355.0,42.4 356.7,43.7 358.3,45.1 359.8,46.7 361.4,48.5 363.0,50.4 364.5,52.5 366.0,54.8 367.5,57.3 368.9,59.9 370.4,62.7 371.8,65.5 373.2,68.6 375.8,75.0 378.3,81.7 379.5,85.2 381.8,92.4 384.0,99.8 387.0,110.9 388.8,118.3 391.2,129.1 393.3,139.4 395.7,152.2 397.5,163.6 398.9,173.7 400.2,184.3 401.0,193.0 401.3,197.3 401.4,201.1 401.5,204.5 401.4,207.4 401.3,210.7 400.9,213.4 400.5,215.7 399.9,218.1 399.2,220.0 398.4,221.6 397.3,223.1 396.2,224.4 395.1,225.3 394.1,226.1 392.8,226.9 391.4,227.7 388.5,229.3 379.4,233.8 376.0,235.5 373.2,237.2 370.5,238.8 368.0,240.4 365.5,242.1 363.2,243.8 360.3,246.0 357.4,248.4 354.2,251.2 351.3,253.9 348.3,256.9 345.6,259.7 342.7,262.9 339.7,266.3 335.9,271.0 332.5,275.4 328.0,281.4 324.1,287.0 320.7,291.9 316.1,298.6 301.4,321.1 295.4,330.2 290.2,337.7 287.5,341.4 284.7,345.1" fill="none" stroke="#e40c1c" stroke-opacity="0.93" stroke-width="1.2" stroke-linejoin="round"/>
<polyline points="288.5,194.9 290.1,191.4 292.2,187.3 295.5,182.1 299.3,176.9 303.2,171.8 307.4,166.9 311.4,162.7 313.5,160.6 315.3,159.0 318.7,156.3 320.6,154.9 322.2,153.9 323.7,152.9 325.3,152.1 327.0,151.4 328.6,150.7 330.3,150.2 331.4,149.9 333.1,149.7 334.3,149.6 336.0,149.6 337.1,149.6 338.3,149.8 340.0,150.2 341.7,150.8 343.3,151.6 344.4,152.2 346.0,153.2 347.0,154.1 348.5,155.4 350.0,156.9 351.4,158.6 352.3,159.8 353.6,161.7 354.9,163.8 356.1,165.9 357.2,168.1 358.2,170.4 359.2,172.8 360.1,175.2 360.9,177.7 361.9,181.0 362.6,183.4 363.3,186.7 363.8,189.1 364.3,192.3 364.7,194.6 365.0,197.6 365.1,199.8 365.1,200.6 365.2,203.4 365.2,205.5 365.1,208.1 364.9,210.7 364.6,213.1 364.2,215.4 363.8,217.6 363.0,220.3 362.0,223.3 360.6,226.7 359.0,230.1 357.0,234.0 354.8,237.9 351.7,243.1 348.9,247.5 344.9,253.4 339.1,261.6 336.9,264.7 327.7,277.0 320.7,286.9 315.4,294.5 302.2,313.9 299.9,317.2 292.5,327.3 288.6,332.4 286.0,335.8 283.2,339.2 280.4,342.4 277.5,345.6 276.0,347.1 273.0,349.9 271.5,351.2 268.4,353.7 266.8,354.7 265.2,355.7 263.7,356.6 262.1,357.4 260.5,358.1 258.9,358.6 257.3,359.0 255.7,359.3 254.3,359.5 251.6,359.6 248.9,359.5 247.4,359.3 245.9,358.9 244.3,358.4 242.6,357.6 241.0,356.7 239.4,355.7 237.8,354.4 236.2,352.9 234.7,351.3 233.2,349.5 231.7,347.5 230.2,345.4 228.8,343.1 227.4,340.7 226.1,338.2 224.7,335.5 222.2,329.8 220.9,326.9 218.5,320.6 216.3,314.2 214.1,307.5 212.1,300.7 210.2,293.9 208.5,287.1 206.1,277.2 204.0,267.6 202.3,258.5 200.7,250.1 199.1,239.9 198.1,233.1 197.1,225.0 196.4,218.1 195.8,210.9 195.6,205.1 195.6,202.1 195.6,199.5 195.9,195.9 196.2,194.0 196.5,192.3 197.2,190.0 197.7,188.7 198.3,187.7 198.9,186.7 199.8,185.6 200.6,184.7 201.5,183.9 203.4,182.6 205.7,181.2 215.7,176.1 220.8,173.2 225.7,170.2 230.3,167.0 232.9,165.0 235.3,163.0 237.8,160.9 240.4,158.5 242.7,156.4 245.1,154.0 247.6,151.3 250.2,148.4 254.1,143.7 258.3,138.3 264.4,130.2 269.7,122.7 273.8,116.6 278.3,109.9 292.7,87.4 301.2,74.4 305.0,68.7 307.7,64.9 311.9,59.2 314.8,55.6 317.8,52.1 319.3,50.4 322.4,47.2 325.6,44.3 327.2,42.9 328.9,41.7 330.6,40.5 332.3,39.4 334.1,38.5 335.9,37.6 337.7,36.9 339.6,36.4 341.5,36.0 343.4,35.8 345.4,35.8 347.3,36.0 349.2,36.5 351.1,37.1 353.1,37.9 354.9,38.9 356.7,40.1 358.4,41.5 360.2,43.0 361.9,44.8 363.5,46.7 365.1,48.8 366.7,51.0 368.3,53.4 369.8,55.9 371.3,58.6 372.7,61.5 374.1,64.4 375.5,67.5 378.2,74.0 380.7,80.9 383.0,88.1 385.2,95.4 388.2,106.6 390.1,114.1 392.5,125.1 394.6,135.6 397.0,148.8 398.9,160.6 400.4,171.0 401.7,182.1 402.6,191.2 402.9,195.8 403.0,199.9 403.1,203.4 403.0,206.5 402.9,209.2 402.6,212.3 402.2,214.9 401.7,217.1 401.1,219.0 400.3,220.9 399.3,222.5 398.1,224.2 397.1,225.3 395.9,226.2 394.6,227.2 392.9,228.3 390.0,229.8 381.6,233.9 376.5,236.5 371.4,239.4 366.4,242.7 363.7,244.6 361.3,246.4 356.6,250.2 353.8,252.7 351.4,254.9 346.6,259.6 342.0,264.6 334.1,273.8 329.5,279.3 324.6,285.6 319.2,292.8 314.3,299.5 309.1,306.9 298.8,321.9 296.3,325.4 292.3,330.8 288.2,336.3 282.6,343.5" fill="none" stroke="#1808dc" stroke-opacity="0.3" stroke-width="1.2" stroke-linejoin="round"/>
<polyline points="358.7,162.5 360.3,166.0 362.1,170.6 363.7,175.3 365.0,179.9 366.2,184.6 367.2,189.9 367.8,194.2 368.3,199.0 368.5,202.8 368.4,207.0 368.2,210.8 367.7,214.4 367.0,217.7 365.9,221.3 364.8,224.2 363.4,227.3 362.2,229.5 360.6,232.1 358.8,234.6 357.0,237.2 353.5,241.7 344.6,252.6 339.5,259.0 333.6,266.7 328.4,273.9 323.3,281.3 318.5,288.4 301.1,315.1 295.3,323.7 289.2,332.6 285.2,337.9 282.5,341.4 278.4,346.4 275.5,349.6 272.6,352.5 271.1,353.9 268.1,356.5 265.0,358.8 263.4,359.8 261.9,360.6 260.3,361.4 258.8,362.1 257.2,362.6 255.6,363.0 254.0,363.3 252.4,363.4 250.8,363.4 249.2,363.3 247.7,362.9 246.1,362.5 244.5,361.8 242.9,361.0 241.4,360.1 239.8,358.9 238.3,357.6 236.8,356.1 235.3,354.5 233.8,352.7 232.3,350.7 230.8,348.6 229.4,346.4 228.0,344.0 226.6,341.4 223.9,336.0 222.6,333.1 220.1,326.9 217.8,320.5 215.5,313.8 213.4,306.9 210.5,296.5 207.9,286.1 205.6,276.0 203.6,266.3 201.9,257.2 200.0,246.1 198.5,236.2 197.4,227.7 196.5,218.7 196.0,211.3 195.8,207.6 195.8,204.3 195.8,201.5 196.0,199.0 196.2,196.8 196.4,194.9 196.7,193.2 197.2,191.3 197.8,189.6 198.4,188.2 199.5,186.5 200.8,184.8 202.2,183.5 204.2,182.0 205.8,181.0 207.7,179.9 217.1,175.0 222.4,172.0 225.1,170.4 227.9,168.6 230.4,166.8 233.1,164.8 237.3,161.6 241.7,157.7 246.1,153.5 250.4,149.1 255.0,143.9 259.4,138.6 264.3,132.4 269.5,125.2 273.7,119.3 279.0,111.4 294.7,87.4 300.8,78.3 304.6,72.7 307.3,69.0 310.0,65.2 312.9,61.6 315.7,58.0 318.7,54.6 321.7,51.3 324.8,48.3 328.0,45.6 329.6,44.4 331.2,43.3 332.8,42.3 334.4,41.4 336.1,40.6 337.7,39.9 339.3,39.4 341.0,39.0 342.7,38.8 344.3,38.7 346.0,38.8 347.6,39.1 349.3,39.5 350.9,40.1 352.6,40.9 354.2,41.8 355.8,43.0 357.4,44.3 359.0,45.8 360.6,47.5 362.1,49.3 363.7,51.4 365.2,53.6 366.7,56.0 368.2,58.5 369.6,61.2 371.0,64.0 372.4,67.0 375.1,73.2 377.7,79.9 380.1,86.9 382.4,94.2 384.5,101.5 387.4,112.7 389.2,120.0 391.6,130.7 393.6,141.0 395.4,150.6 397.3,162.2 398.8,172.4 399.9,181.3 400.8,190.5 401.3,198.0 401.5,203.9 401.5,206.9 401.3,209.5 401.2,211.8 400.9,213.7 400.6,215.5 400.1,217.4 399.7,218.7 399.1,220.2 398.1,222.0 397.6,222.7 396.8,223.6 396.1,224.4 395.3,225.2 393.3,226.6 391.7,227.5 389.9,228.6 380.4,233.3 375.0,236.2 372.0,237.9 369.3,239.6 366.8,241.2 364.2,243.1 360.2,246.1 355.8,249.8 352.1,253.2 348.0,257.2 345.3,260.0 343.0,262.5 338.2,268.2 332.8,274.9 327.7,281.9 322.8,288.7 317.6,296.5 299.7,323.7 293.5,332.9 289.6,338.5 286.9,342.3 282.7,347.8 279.8,351.4 276.8,354.8 275.3,356.4 272.2,359.5 269.1,362.3 265.9,364.8 264.3,365.9 262.7,366.9 261.1,367.8 259.4,368.6 257.8,369.2 256.1,369.7 254.5,370.0 252.8,370.2 251.2,370.3 249.5,370.2 247.9,369.9 246.2,369.4 244.6,368.8 242.9,368.0 241.3,367.0 239.7,365.8 238.1,364.4 236.5,362.9 234.9,361.2 233.3,359.3 231.8,357.2 230.3,355.0 228.8,352.6 227.3,350.0 225.9,347.3 224.5,344.4 221.7,338.4 219.1,331.8 217.9,328.4 215.5,321.4 213.2,314.1 212.1,310.4 210.1,303.0 208.2,295.6 205.6,284.7 203.4,274.1 200.9,260.9 198.8,249.0 197.0,236.1 195.7,225.3 194.8,216.6 194.5,212.1 194.4,208.2 194.3,204.9 194.4,201.0 194.5,198.6 194.7,196.4 195.0,194.6 195.4,192.4 195.8,191.1 196.4,189.5 197.0,188.1 197.9,186.7 198.8,185.5 199.8,184.5 200.8,183.6 202.1,182.7 203.6,181.7 205.3,180.8 210.3,178.3" fill="none" stroke="#e40c1c" stroke-opacity="0.93" stroke-width="1.2" stroke-linejoin="round"/>
<polyline points="359.2,162.3 361.2,166.7 363.1,171.3 364.7,176.0 366.1,180.7 367.4,186.2 368.4,191.5 369.1,196.5 369.6,201.2 369.7,205.7 369.5,209.1 369.1,212.9 368.5,216.4 367.6,219.7 366.6,222.8 365.2,226.2 363.4,229.9 361.7,233.1 359.8,236.3 357.7,239.6 355.4,242.9 350.9,248.8 341.9,260.0 334.9,269.0 330.9,274.3 327.2,279.2 322.5,285.8 317.2,293.3 302.0,315.7 297.3,322.5 293.6,327.7 289.7,333.0 284.3,339.9 280.1,345.0 277.2,348.2 275.7,349.8 272.7,352.7 271.2,354.1 268.1,356.6 266.5,357.7 265.0,358.8 263.4,359.7 261.8,360.5 260.2,361.2 258.6,361.8 257.0,362.3 255.4,362.6 252.4,362.9 250.9,362.9 249.4,362.8 247.9,362.5 246.3,362.1 244.7,361.6 243.1,360.8 241.5,359.9 240.0,358.8 238.4,357.5 236.9,356.1 235.4,354.4 233.9,352.6 232.5,350.7 231.0,348.5 229.6,346.3 228.3,343.9 226.9,341.3 225.6,338.6 224.3,335.8 221.7,329.9 219.3,323.6 217.0,317.1 214.8,310.3 211.8,299.9 209.0,289.5 206.6,279.2 204.5,269.4 202.6,260.1 200.6,248.7 199.0,238.6 197.8,229.7 196.7,220.3 196.1,212.7 195.9,208.8 195.8,205.4 195.7,202.4 195.8,199.8 195.9,197.5 196.1,195.5 196.4,193.7 196.9,191.7 197.4,189.9 198.1,188.5 199.0,186.9 200.2,185.5 201.6,184.1 203.4,182.8 206.4,181.0 215.3,176.4 220.4,173.6 226.2,170.0 229.1,168.0 231.7,166.1 236.0,162.7 240.3,158.9 244.5,154.8 248.5,150.6 252.8,145.6 256.9,140.5 264.1,130.8 268.6,124.5 272.7,118.6 277.9,110.7 293.4,86.6 302.0,73.7 307.2,66.1 311.4,60.4 314.3,56.8 317.2,53.2 320.3,49.9 323.4,46.8 326.6,43.9 328.3,42.6 329.9,41.4 331.6,40.3 333.4,39.3 335.1,38.4 336.9,37.7 338.7,37.1 340.6,36.6 342.4,36.3 344.3,36.2 346.2,36.3 348.1,36.6 350.0,37.1 351.9,37.8 353.7,38.7 355.5,39.8 357.3,41.1 359.0,42.5 360.7,44.1 362.4,45.9 364.0,47.9 365.6,50.0 367.1,52.3 368.7,54.8 370.1,57.4 371.6,60.1 373.0,63.0 374.4,66.1 377.1,72.4 379.6,79.2 382.0,86.3 384.3,93.6 385.3,97.3 387.4,104.7 389.2,112.2 391.8,123.2 394.0,133.9 396.4,147.2 398.4,159.2 399.9,169.8 401.1,179.0 402.0,188.7 402.6,196.5 402.8,202.8 402.7,206.0 402.6,208.7 402.4,211.1 402.1,213.3 401.8,215.1 401.3,217.2 400.8,218.6 400.2,220.2 399.1,222.2 398.0,223.8 396.5,225.3 394.9,226.5 393.1,227.7 390.7,229.0 381.3,233.6 376.2,236.2 371.6,238.7 367.4,241.4 364.8,243.2 362.4,244.8 359.9,246.7 357.3,248.8 354.6,251.1 352.2,253.3 347.5,257.7 342.3,263.0 335.9,270.3 330.8,276.3 325.1,283.4 319.9,290.3 315.1,296.9 309.0,305.6 298.7,320.5 293.6,327.5 289.6,332.9 285.4,338.4 281.1,343.7 278.2,347.1 273.7,352.0 270.7,355.0 267.7,357.7 264.7,360.0 263.2,361.1 261.7,362.0 260.3,362.8 258.9,363.5 257.5,364.0 256.2,364.5 254.9,364.8 253.6,365.0 252.4,365.0 250.2,365.0 249.0,364.8 247.8,364.6 246.6,364.2 245.4,363.6 244.0,362.9 242.7,361.9 241.3,360.8 239.9,359.6 238.5,358.1 237.0,356.4 235.6,354.5 234.1,352.5 232.6,350.3 231.2,347.9 229.7,345.3 228.3,342.6 226.9,339.7 224.2,333.6 221.5,327.1 220.3,323.7 217.8,316.7 215.5,309.5 212.2,298.5 209.3,287.6 206.8,277.0 204.6,266.9 202.2,254.4 200.3,243.3 198.5,231.3 197.2,221.4 196.5,213.4 196.1,207.0 196.0,202.9 196.1,199.4 196.2,197.3 196.4,195.4 196.6,193.7 197.0,191.9 197.3,190.7 197.9,189.3 198.4,188.2 199.2,186.9 200.0,185.9 200.9,185.0 201.9,184.2 203.1,183.3 205.9,181.5 210.6,179.0" fill="none" stroke="#1808dc" stroke-opacity="0.3" stroke-width="1.2" stroke-linejoin="round"/>
<polyline points="315.3,180.7 317.2,179.6 319.0,178.8 320.8,178.1 322.7,177.6 324.6,177.3 326.2,177.1 327.9,177.2 329.5,177.5 331.1,178.0 332.4,178.6 333.9,179.5 335.2,180.4 336.6,181.8 337.7,183.0 338.9,184.7 339.9,186.3 340.9,188.4 341.7,190.2 342.4,192.6 343.0,194.6 343.5,197.2 343.8,199.4 344.0,202.1 344.1,204.3 344.0,207.1 343.8,209.5 343.5,211.9 343.1,214.3 342.6,216.7 341.9,219.2 341.1,221.7 340.0,224.8 338.9,227.5 337.4,230.7 335.7,234.2 333.8,237.7 331.7,241.5 329.0,246.3 322.4,257.2 310.0,277.1 300.4,292.1 296.8,297.5 292.9,303.1 288.9,308.8 285.7,313.1 281.2,318.7 278.9,321.3 276.6,323.9 274.2,326.4 271.7,328.7 269.2,330.9 267.9,331.9 265.4,333.7 264.1,334.5 261.5,335.9 260.1,336.4 258.8,336.9 257.5,337.3 256.2,337.6 254.8,337.8 253.5,338.0 252.2,338.0 250.8,337.9 249.5,337.7 248.2,337.4 246.8,336.9 245.5,336.4 244.2,335.7 242.9,335.0 241.6,334.1 240.3,333.1 239.0,331.9 237.8,330.7 236.5,329.3 235.3,327.9 232.8,324.6 230.5,320.9 228.2,316.9 226.0,312.5 223.9,307.8 221.9,302.9 219.9,297.8 218.1,292.5 216.4,287.1 214.1,279.1 211.9,271.0 210.1,263.2 208.4,255.6 206.6,246.2 205.1,237.6 203.9,229.8 203.0,222.9 202.4,216.9 202.0,210.4 201.8,205.0 201.9,200.6 202.1,198.2 202.3,196.2 202.6,194.3 202.9,192.7 203.3,191.2 203.7,189.9 204.6,187.5 205.2,186.5 205.9,185.3 206.7,184.2 207.5,183.2 208.4,182.3 209.5,181.3 211.4,179.7 213.7,178.1 223.4,172.0 227.8,169.0 231.5,166.4 235.1,163.7 239.8,159.7 244.0,155.9 248.5,151.3 253.0,146.5 257.2,141.5 261.8,135.8 266.1,130.1 270.7,123.7 274.9,117.6 279.4,110.9 295.2,86.9 301.3,77.7 306.5,70.2 309.2,66.5 312.0,62.8 314.9,59.2 317.8,55.8 320.8,52.5 323.9,49.4 327.0,46.6 328.6,45.3 330.2,44.1 331.8,43.1 333.4,42.1 335.1,41.2 336.7,40.5 338.3,39.9 340.0,39.4 341.6,39.1 343.3,38.9 345.0,38.9 346.6,39.1 348.3,39.4 349.9,39.9 351.5,40.5 353.2,41.4 354.8,42.4 356.4,43.6 358.0,45.0 359.6,46.6 361.2,48.3 362.7,50.3 364.3,52.4 365.8,54.6 367.3,57.1 368.7,59.7 370.2,62.4 371.6,65.3 374.3,71.4 376.9,77.9 378.1,81.4 380.5,88.4 382.8,95.7 385.9,106.7 387.7,114.1 390.3,125.1 392.5,135.6 394.4,145.5 396.1,154.7 397.4,163.2 398.9,173.3 399.9,182.0 400.7,189.4 401.1,195.7 401.4,202.1 401.4,207.2 401.2,211.3 400.9,213.3 400.6,215.1 400.3,216.7 399.9,218.0 399.5,219.2 398.9,220.6 397.8,222.3 396.5,223.9 395.1,225.2 393.2,226.6 391.6,227.6 389.7,228.6 380.2,233.3 375.1,236.1 372.5,237.6 369.8,239.2 367.3,240.9 364.7,242.7 360.8,245.6 356.5,249.2 352.3,253.0 348.3,256.9 343.3,262.2 338.5,267.8 333.2,274.5 328.0,281.4 323.2,288.2 318.0,295.8 312.3,304.5 300.3,322.9 292.8,333.9 288.9,339.5 286.1,343.3 281.9,348.7 279.0,352.3 276.0,355.6 274.5,357.2 271.4,360.3 268.3,363.0 266.7,364.3 265.1,365.4 263.4,366.5 261.8,367.4 260.2,368.2 258.6,368.9 256.9,369.5 255.3,369.9 253.6,370.2 251.9,370.3 250.3,370.2 248.6,370.0 247.0,369.7 245.3,369.1 243.7,368.4 242.1,367.5 240.4,366.4 238.8,365.1 237.2,363.7 235.6,362.0 234.1,360.2 232.5,358.2 231.0,356.0 229.5,353.7 228.0,351.2 226.6,348.6 225.1,345.8 223.7,342.9 221.0,336.7 219.7,333.4 217.2,326.6 214.9,319.5 212.6,312.2 210.5,304.8 207.7,293.7 205.2,282.8 203.0,272.3 200.6,259.3 198.6,247.6 197.1,237.2 195.8,226.3 194.9,217.3 194.4,210.1 194.3,204.3 194.4,201.4 194.5,198.9 194.7,196.7 195.1,194.2 195.4,192.7 195.9,190.8 196.5,189.3 197.1,188.0 198.0,186.6 198.9,185.4" fill="none" stroke="#e40c1c" stroke-opacity="0.93" stroke-width="1.2" stroke-linejoin="round"/>
<polyline points="314.5,179.4 316.5,178.2 318.3,177.2 320.2,176.3 322.3,175.6 324.1,175.2 325.6,175.0 327.2,175.0 328.7,175.2 330.6,175.7 332.1,176.3 333.9,177.2 335.3,178.2 336.6,179.3 338.1,180.8 339.2,182.3 340.5,184.2 341.6,186.3 342.4,188.1 343.2,190.1 343.9,192.6 344.5,195.2 344.9,197.9 345.1,200.6 345.2,202.9 345.2,205.8 345.0,208.2 344.6,211.1 344.2,213.5 343.7,216.0 343.0,218.5 342.1,221.5 341.1,224.1 340.0,226.7 338.8,229.4 337.5,232.1 335.6,235.6 333.9,238.6 331.7,242.3 326.5,250.7 313.6,270.1 299.4,291.4 292.6,300.9 286.3,309.2 281.8,314.8 277.2,320.2 274.8,322.8 272.4,325.2 268.8,328.6 266.3,330.6 265.1,331.6 262.6,333.3 261.3,334.0 258.8,335.3 257.6,335.8 256.4,336.3 255.1,336.7 253.9,336.9 252.6,337.1 253.3,337.3 252.1,337.2 250.9,336.9 249.6,336.6 248.4,336.1 247.2,335.5 246.0,334.9 244.8,334.1 243.6,333.2 242.4,332.1 241.2,331.0 240.0,329.8 237.6,327.0 235.2,323.7 232.8,320.1 230.5,316.1 228.2,311.8 225.9,307.2 223.8,302.4 221.7,297.3 219.6,292.1 216.8,284.2 215.1,278.8 212.7,270.9 210.6,263.1 208.7,255.6 207.1,248.5 205.4,239.7 204.3,233.6 203.1,226.3 202.3,219.8 201.6,212.9 201.3,208.2 201.2,202.2 201.3,198.2 201.6,194.1 201.9,192.3 202.2,190.6 203.0,188.0 203.7,186.2 204.6,184.5 205.7,183.1 207.1,181.8 208.3,180.9 210.1,179.7 218.8,174.9 224.1,171.6 228.2,168.8 231.9,166.2 236.3,162.7 240.6,158.8 244.7,154.7 249.3,149.9 253.1,145.4 257.2,140.2 264.4,130.5 269.0,124.1 273.0,118.2 278.3,110.2 294.0,86.1 301.3,75.0 306.5,67.4 309.2,63.6 312.0,59.9 314.9,56.2 317.9,52.8 320.9,49.5 324.1,46.4 327.3,43.6 329.0,42.4 330.6,41.2 332.3,40.1 334.1,39.2 335.8,38.4 337.6,37.7 339.4,37.1 341.3,36.7 343.2,36.5 345.1,36.5 346.9,36.7 348.9,37.1 350.7,37.6 352.5,38.4 354.3,39.4 356.1,40.5 357.9,41.9 359.6,43.4 361.2,45.1 362.9,46.9 364.5,49.0 366.0,51.1 367.6,53.5 369.1,56.0 370.6,58.7 372.0,61.5 373.4,64.4 376.1,70.6 378.7,77.3 381.1,84.2 382.3,87.8 384.5,95.1 386.5,102.6 389.4,113.7 391.0,121.1 393.3,131.8 395.3,142.0 397.4,154.5 399.1,165.7 400.4,175.5 401.3,183.9 402.0,191.0 402.4,198.4 402.5,204.3 402.4,207.3 402.3,209.9 402.0,212.1 401.7,214.1 401.3,215.8 400.8,217.8 400.3,219.1 399.7,220.6 398.6,222.4 398.0,223.2 397.2,224.1 396.4,225.0 395.5,225.7 393.5,227.1 391.9,228.0 390.0,229.0 380.6,233.4 374.9,236.4 371.9,238.1 369.1,239.7 366.6,241.3 363.9,243.2 359.8,246.1 355.3,249.7 350.9,253.5 346.7,257.5 341.4,262.9 338.8,265.6 335.5,269.3 330.4,275.3 324.8,282.3 319.6,289.3 314.8,295.7 308.7,304.4 297.3,320.9 293.4,326.2 288.1,333.3 283.9,338.7 279.6,344.0 276.6,347.4 272.2,352.1 269.2,354.9 266.2,357.5 263.2,359.7 260.4,361.5 259.0,362.2 257.6,362.8 256.4,363.2 255.1,363.5 253.9,363.7 252.8,363.8 250.8,363.8 249.7,363.8 248.6,363.6 247.7,363.3 246.5,362.9 245.3,362.2 244.0,361.5 242.7,360.5 241.4,359.4 240.0,358.1 238.6,356.5 237.1,354.8 235.7,352.9 234.2,350.8 232.8,348.5 231.3,346.0 229.9,343.4 227.1,337.8 224.4,331.6 221.8,325.0 219.3,318.1 216.9,310.9 214.7,303.7 212.6,296.4 209.7,285.5 207.9,278.5 205.7,268.3 203.7,258.7 201.6,247.1 199.9,236.9 198.4,226.0 197.5,218.7 196.9,211.3 196.7,207.5 196.6,203.3 196.5,200.7 196.6,198.3 196.7,196.3 196.9,194.6 197.2,193.1 197.6,191.4 198.0,190.0 198.6,188.8 199.3,187.5 200.0,186.4" fill="none" stroke="#1808dc" stroke-opacity="0.3" stroke-width="1.2" stroke-linejoin="round"/>
<polyline points="304.2,282.3 297.6,292.4 292.1,300.5 287.1,307.3 282.9,312.7 280.7,315.4 278.4,318.0 276.2,320.4 273.8,322.8 270.2,326.0 267.8,328.0 266.5,328.9 264.0,330.4 262.8,331.1 260.2,332.3 258.9,332.8 257.7,333.2 256.4,333.5 255.1,333.7 253.8,333.8 252.5,333.8 251.2,333.7 249.9,333.6 248.6,333.3 247.3,332.9 246.1,332.4 244.8,331.8 243.5,331.1 242.3,330.2 241.0,329.3 239.8,328.3 238.5,327.1 237.3,325.8 236.1,324.5 234.9,323.0 232.6,319.8 231.4,318.0 229.2,314.2 228.1,312.2 226.0,307.9 225.0,305.7 223.0,301.0 221.1,296.2 219.3,291.2 216.9,283.6 215.3,278.4 213.9,273.3 212.6,268.2 210.8,260.7 209.7,255.8 208.3,248.9 207.0,242.3 206.0,236.2 205.1,230.6 204.4,225.4 203.9,220.6 203.4,215.0 203.1,211.2 202.9,206.8 202.9,202.9 203.1,198.8 203.4,196.1 203.9,193.1 204.2,191.6 204.8,189.7 205.4,188.1 206.1,186.7 206.8,185.5 207.8,184.0 208.9,182.8 210.0,181.6 212.1,179.8 214.7,177.9 224.8,171.2 229.7,167.8 233.9,164.7 237.6,161.7 240.3,159.4 242.6,157.3 247.0,152.9 251.9,147.7 256.6,142.3 260.5,137.5 264.0,133.0 268.4,127.0 272.4,121.3 275.9,116.3 280.4,109.5 298.9,81.3 302.7,75.8 306.6,70.2 310.7,64.6 315.0,59.2 317.9,55.7 319.4,54.0 322.5,50.8 325.6,47.9 327.1,46.6 328.7,45.3 330.3,44.1 331.9,43.0 333.6,42.1 335.2,41.2 336.8,40.5 338.5,39.9 340.1,39.5 341.8,39.1 343.4,39.0 345.1,39.0 346.7,39.1 348.4,39.5 350.0,40.0 351.7,40.7 353.3,41.5 354.9,42.6 356.5,43.8 358.1,45.2 359.7,46.8 361.3,48.5 362.8,50.5 364.4,52.6 365.9,54.8 367.3,57.3 368.8,59.9 370.2,62.6 371.6,65.5 373.0,68.5 374.4,71.6 376.9,78.2 378.2,81.6 380.6,88.7 381.7,92.3 383.9,99.6 386.9,110.7 388.7,118.1 390.3,125.3 391.8,132.4 393.8,142.5 395.6,151.9 397.0,160.7 398.2,168.6 399.4,178.0 400.1,184.1 400.8,191.2 401.2,197.2 401.4,202.2 401.4,206.4 401.2,210.6 400.8,214.0 400.5,215.7 400.1,217.2 399.7,218.5 399.3,219.6 398.8,220.6 398.2,221.8 397.5,222.8 396.7,223.7 395.9,224.5 394.9,225.4 393.0,226.8 390.4,228.3 379.9,233.5 374.4,236.4 369.8,239.3 365.1,242.4 362.3,244.4 359.5,246.7 356.9,248.8 354.1,251.2 351.3,253.9 348.7,256.5 343.8,261.6 339.0,267.2 334.5,272.8 329.5,279.4 324.8,285.9 320.6,292.0 316.0,298.8 301.3,321.3 296.5,328.5 291.4,336.0 287.4,341.6 283.2,347.1 278.8,352.5 275.8,355.8 274.3,357.4 271.2,360.4 268.1,363.2 266.5,364.4 264.9,365.5 263.3,366.6 261.6,367.5 260.0,368.3 258.4,369.0 256.7,369.5 255.1,369.9 253.4,370.2 251.8,370.3 250.1,370.2 248.4,370.0 246.8,369.6 245.1,369.0 243.5,368.3 241.9,367.4 240.3,366.3 238.6,365.0 237.0,363.5 235.5,361.8 233.9,360.0 232.4,358.0 230.8,355.8 229.3,353.5 227.9,350.9 226.4,348.3 225.0,345.5 223.6,342.6 220.9,336.3 219.6,333.0 217.1,326.2 214.7,319.1 213.6,315.4 211.5,308.1 208.5,296.9 205.9,286.0 203.6,275.3 201.1,262.1 199.0,250.0 197.1,237.0 195.7,226.1 195.2,220.5 194.8,215.6 194.5,211.3 194.4,207.5 194.3,204.2 194.4,200.5 194.6,198.1 194.9,195.4 195.3,193.1 195.8,191.2 196.2,190.0 196.6,188.9 197.1,187.9 197.8,186.8 199.1,185.2 199.9,184.4 200.9,183.5 202.9,182.2 205.2,180.8 215.7,175.6 221.1,172.7 225.7,169.9 230.4,166.8 233.1,164.8 236.0,162.6 238.6,160.5 241.3,158.1 244.1,155.4 246.6,153.0 251.5,147.9 256.2,142.5 260.8,136.9 265.7,130.4 270.4,124.0 274.5,118.0 279.9,110.0 294.7,87.4 299.5,80.1 304.6,72.7 310.1,65.2 312.9,61.5 315.8,58.0 318.7,54.5 320.2,52.9 323.3,49.8 324.9,48.3 328.0,45.6 329.6,44.4 331.2,43.3 332.8,42.2 334.5,41.3 336.1,40.6 337.7,39.9 339.4,39.4 341.0,39.0 342.7,38.8 344.3,38.7 346.0,38.8 347.7,39.1 349.3,39.5 351.0,40.1 352.6,40.9 354.2,41.8 355.8,43.0 357.4,44.3 359.0,45.8 360.6,47.5 362.2,49.4 363.7,51.4 365.2,53.6 366.7,56.0 368.2,58.5 369.7,61.2" fill="none" stroke="#e40c1c" stroke-opacity="0.93" stroke-width="1.2" stroke-linejoin="round"/>
<polyline points="304.9,282.7 299.0,291.5 293.5,299.5 288.5,306.3 285.4,310.3 283.2,313.0 281.0,315.7 278.7,318.2 276.4,320.7 274.0,323.0 270.4,326.3 267.9,328.2 266.6,329.1 264.1,330.7 262.8,331.4 260.2,332.6 258.9,333.1 257.6,333.5 256.3,333.8 254.0,334.1 252.7,334.1 251.4,334.0 250.1,333.8 248.8,333.5 247.5,333.1 246.2,332.6 244.9,332.0 243.7,331.2 242.4,330.4 241.2,329.4 240.0,328.3 238.7,327.2 236.3,324.5 235.2,323.0 232.9,319.7 231.7,318.0 229.5,314.2 228.4,312.1 226.3,307.9 225.3,305.6 223.3,301.0 221.3,296.2 219.5,291.2 217.8,286.1 216.1,281.0 214.6,275.8 213.1,270.7 211.8,265.7 210.0,258.3 209.0,253.5 207.5,246.7 206.3,240.3 205.3,234.3 204.4,228.8 203.5,222.2 203.0,217.7 202.6,212.4 202.3,207.8 202.2,203.8 202.3,200.3 202.5,197.3 202.8,194.0 203.4,191.0 204.2,187.8 204.7,186.5 205.2,185.3 205.8,184.3 206.6,183.1 207.3,182.3 208.2,181.4 209.9,180.0 211.9,178.6 220.8,173.4 226.0,170.1 230.3,167.1 234.2,164.2 236.6,162.2 239.2,159.9 243.8,155.6 248.2,151.0 250.9,148.0 253.1,145.4 257.3,140.2 263.2,132.4 267.6,126.4 271.5,120.7 279.4,108.8 293.0,87.8 300.2,76.8 304.0,71.1 306.6,67.3 310.7,61.7 315.0,56.2 318.0,52.7 319.5,51.1 322.6,47.9 325.8,45.0 327.4,43.6 329.1,42.4 330.8,41.2 332.4,40.1 334.2,39.2 335.9,38.4 337.7,37.7 339.5,37.2 341.4,36.8 343.3,36.5 345.2,36.5 347.1,36.7 349.0,37.1 350.8,37.7 352.7,38.5 354.5,39.5 356.3,40.6 358.0,42.0 359.7,43.5 361.4,45.2 363.0,47.1 364.6,49.1 366.2,51.3 367.7,53.7 369.2,56.2 370.7,58.9 372.1,61.7 373.5,64.6 374.9,67.7 376.2,70.9 378.8,77.5 380.0,81.0 382.4,88.1 383.5,91.7 385.7,99.1 388.6,110.3 390.3,117.7 392.7,128.5 394.1,135.5 396.0,145.4 397.6,154.7 398.9,163.2 400.0,170.9 400.8,177.8 401.7,185.9 402.2,192.7 402.6,198.5 402.7,203.3 402.6,207.3 402.3,211.5 401.8,214.8 401.2,217.4 400.7,218.8 400.3,220.0 399.8,221.1 399.0,222.3 398.2,223.4 397.4,224.4 396.6,225.2 395.5,226.1 393.4,227.5 391.1,228.9 388.3,230.2 380.8,233.8 375.1,236.8 370.4,239.6 365.7,242.6 363.0,244.5 360.2,246.7 357.6,248.8 354.8,251.1 351.9,253.7 349.4,256.1 346.7,258.7 343.9,261.7 339.6,266.4 332.7,274.3 328.1,280.0 323.1,286.5 318.6,292.6 313.7,299.3 298.2,321.8 291.7,330.7 286.2,337.9 282.0,343.3 277.6,348.4 274.6,351.7 273.1,353.3 270.0,356.2 267.0,358.8 265.5,360.0 262.5,362.0 261.0,362.9 259.6,363.6 258.2,364.2 256.8,364.7 255.4,365.1 254.2,365.3 252.9,365.5 250.5,365.5 249.4,365.4 248.1,365.1 246.9,364.7 245.6,364.2 244.3,363.5 243.0,362.7 241.5,361.6 240.1,360.3 238.7,358.9 237.2,357.3 235.8,355.5 234.3,353.5 232.8,351.3 231.4,349.0 229.9,346.4 228.5,343.8 227.1,340.9 224.3,334.9 221.7,328.4 220.4,325.1 217.9,318.1 215.6,310.9 212.3,299.9 209.4,289.0 206.8,278.3 204.6,268.1 202.7,258.6 200.6,246.9 198.7,234.4 197.3,223.9 196.5,215.4 196.2,211.2 196.0,207.4 195.9,203.2 195.9,200.5 196.0,198.2 196.2,195.6 196.5,193.4 197.1,191.2 197.8,189.1 198.3,188.2 198.9,187.2 199.5,186.3 200.2,185.5 201.7,184.1 203.6,182.8 205.8,181.5 215.4,176.5 220.4,173.6 225.6,170.4 230.2,167.2 232.8,165.2 235.2,163.3 237.7,161.2 239.8,159.2 242.1,157.1 244.4,154.8 246.9,152.2 249.5,149.3 253.3,144.8 257.4,139.6 264.0,130.7 269.3,123.3 273.4,117.3 277.8,110.6 293.3,86.5 300.6,75.4 305.7,67.8 309.8,62.1 312.7,58.4 315.6,54.8 318.6,51.3 320.1,49.7 323.3,46.5 324.9,45.1 326.5,43.7 328.1,42.4 329.8,41.1 331.5,40.0 333.3,39.0 335.0,38.2 336.8,37.4 338.7,36.8 340.5,36.3 342.4,36.0 344.3,35.9 346.3,36.0 348.2,36.3 350.1,36.9 352.0,37.6 353.9,38.5 355.7,39.6 357.5,40.8 359.2,42.3 360.9,44.0 362.6,45.8 364.2,47.7 365.8,49.9 367.4,52.2 368.9,54.7 370.4,57.3 371.9,60.1" fill="none" stroke="#1808dc" stroke-opacity="0.3" stroke-width="1.2" stroke-linejoin="round"/>
<polyline points="312.2,209.8 311.6,212.1 310.8,214.4 309.8,216.9 308.7,219.4 307.4,222.1 305.9,225.0 304.1,228.1 302.3,231.1 300.4,234.3 298.2,237.7 295.7,241.3 293.4,244.6 290.9,247.9 288.7,250.8 286.3,253.7 284.3,256.1 280.5,260.1 278.3,262.3 276.5,263.9 274.7,265.4 272.8,266.9 270.9,268.2 269.7,269.0 267.7,270.1 266.4,270.8 264.4,271.6 263.1,272.1 261.0,272.5 259.7,272.7 257.6,272.8 256.2,272.8 254.2,272.4 252.8,272.1 250.8,271.3 249.5,270.6 248.2,269.8 246.9,268.9 245.6,267.8 243.7,266.0 242.5,264.7 241.3,263.2 240.2,261.7 238.5,259.2 237.4,257.4 235.9,254.6 234.9,252.6 233.5,249.6 231.4,244.3 230.2,241.1 229.2,237.9 228.2,234.6 227.4,231.4 226.6,228.3 225.8,224.2 225.2,221.2 224.6,217.4 224.3,214.6 223.9,211.1 223.8,208.6 223.7,205.5 223.7,202.6 223.8,199.8 224.1,196.6 224.6,193.7 225.2,191.0 226.1,187.9 227.0,185.6 228.2,183.0 229.6,180.5 231.4,177.7 233.6,174.5 236.5,171.0 248.0,157.8 253.5,151.3 258.0,145.7 262.9,139.3 269.2,130.6 275.4,121.5 281.6,112.3 297.1,88.4 301.9,81.3 305.7,75.9 310.9,68.7 315.1,63.5 319.4,58.6 322.3,55.5 325.3,52.6 326.9,51.3 330.0,48.9 331.5,47.9 333.1,46.9 334.7,46.1 336.3,45.3 337.8,44.7 339.4,44.2 341.0,43.9 342.7,43.7 344.3,43.6 345.9,43.7 347.5,44.0 349.1,44.4 350.7,44.9 352.3,45.7 353.9,46.6 355.4,47.7 357.0,48.9 358.5,50.4 360.1,52.0 361.6,53.7 363.1,55.6 364.6,57.7 366.0,60.0 367.4,62.4 368.9,64.9 370.2,67.6 371.6,70.4 374.2,76.3 375.5,79.5 377.9,86.0 380.2,92.7 381.3,96.2 383.4,103.2 386.3,113.9 388.8,124.4 390.4,131.3 391.8,137.9 394.2,150.5 396.1,161.8 397.9,174.2 398.7,180.6 399.4,186.4 399.8,191.5 400.1,196.0 400.3,199.9 400.4,204.4 400.4,207.3 400.2,210.6 399.9,213.4 399.5,215.7 398.9,218.1 398.2,220.0 397.2,221.9 396.6,222.7 395.9,223.6 395.1,224.5 394.3,225.2 392.4,226.7 390.8,227.8 388.9,228.8 379.0,233.9 373.4,237.0 370.7,238.6 367.9,240.4 365.4,242.2 362.7,244.2 358.5,247.4 354.0,251.3 349.7,255.5 345.4,259.9 340.8,265.1 336.4,270.4 331.5,276.6 326.2,283.9 322.1,289.7 316.8,297.6 301.1,321.6 295.0,330.7 291.2,336.3 288.5,340.1 285.7,343.8 282.9,347.5 280.0,351.0 277.1,354.5 274.0,357.7 270.9,360.7 267.8,363.4 266.2,364.6 264.6,365.7 263.0,366.7 261.3,367.7 259.7,368.4 258.1,369.1 256.4,369.6 254.8,370.0 253.1,370.2 251.5,370.3 249.8,370.2 248.1,369.9 246.5,369.5 244.8,368.9 243.2,368.1 241.6,367.2 240.0,366.0 238.3,364.7 236.8,363.2 235.2,361.5 233.6,359.6 232.1,357.6 230.6,355.4 229.1,353.0 227.6,350.4 226.1,347.8 224.7,344.9 223.3,342.0 220.6,335.7 218.1,329.0 215.7,322.0 214.5,318.4 212.3,311.1 210.3,303.7 207.5,292.6 205.8,285.3 203.5,274.7 201.5,264.7 199.9,255.3 198.5,246.7 197.0,236.5 195.9,227.7 195.1,220.2 194.6,213.8 194.4,207.3 194.3,202.1 194.6,197.9 194.8,195.9 195.1,194.1 195.4,192.5 195.9,190.7 196.4,189.5 196.8,188.5 197.3,187.6 198.0,186.5 198.8,185.6 199.5,184.7 200.3,184.0 201.4,183.2 203.1,182.0 205.5,180.7 215.1,175.9 219.6,173.5 223.4,171.3 227.2,169.0 232.0,165.6 236.5,162.2 240.9,158.4 245.2,154.4 249.4,150.1 253.9,145.1 258.3,140.0 262.3,135.0 266.6,129.2 271.3,122.6 276.5,115.2 282.1,106.8" fill="none" stroke="#e40c1c" stroke-opacity="0.93" stroke-width="1.2" stroke-linejoin="round"/>
<polyline points="313.0,210.0 312.2,212.3 311.4,214.6 310.3,217.1 309.1,219.6 307.6,222.6 306.0,225.5 304.1,228.7 302.3,231.7 298.0,238.3 295.4,241.9 293.0,245.1 287.7,252.0 285.3,254.9 283.2,257.2 279.4,261.2 275.9,264.4 274.1,265.9 272.2,267.3 270.3,268.6 269.0,269.4 267.1,270.5 265.7,271.1 264.4,271.6 262.4,272.2 260.3,272.7 259.0,272.8 257.6,272.8 256.3,272.8 254.2,272.4 252.9,272.1 251.5,271.6 250.2,271.0 248.9,270.2 247.6,269.3 246.3,268.3 244.4,266.6 243.2,265.3 242.0,263.9 240.8,262.4 239.1,260.0 237.0,256.4 235.5,253.6 234.5,251.6 233.6,249.6 232.3,246.4 231.1,243.2 230.0,240.0 229.0,236.8 228.1,233.5 226.5,227.2 225.9,224.1 225.2,220.2 224.7,217.3 224.3,213.7 224.1,211.1 223.9,207.8 223.8,204.8 223.7,204.1 223.8,202.0 224.1,198.0 224.6,194.4 225.3,191.1 226.3,187.5 228.1,182.7 230.0,178.0 231.8,174.3 233.9,170.8 235.9,167.7 238.6,164.2 241.6,160.5 249.1,151.6 254.3,145.0 258.4,139.7 263.6,132.6 269.4,124.2 275.1,115.7 298.6,79.2 302.3,73.6 304.9,69.9 308.8,64.4 312.9,59.0 315.8,55.5 317.3,53.8 320.3,50.6 323.4,47.6 325.0,46.2 326.7,44.9 328.3,43.7 330.1,42.5 331.9,41.4 333.7,40.5 335.6,39.7 337.6,39.0 339.7,38.4 342.0,38.1 344.2,38.0 346.6,38.1 349.0,38.6 351.2,39.2 353.3,40.0 355.4,41.1 357.3,42.4 359.1,43.7 360.9,45.2 362.5,46.9 364.2,48.8 365.7,50.8 367.3,52.9 368.7,55.2 370.2,57.6 371.6,60.2 373.0,62.9 374.3,65.7 376.9,71.7 378.2,74.8 380.6,81.3 381.7,84.7 383.9,91.6 385.0,95.1 387.0,102.3 389.7,113.1 392.1,123.7 393.6,130.6 394.9,137.3 397.2,150.0 399.1,161.4 400.8,173.8 401.6,180.3 402.1,186.1 402.6,191.3 402.9,195.8 403.1,199.8 403.1,203.3 403.1,206.4 402.9,210.0 402.6,213.1 402.2,215.6 401.6,217.9 400.9,219.8 400.0,221.8 399.3,222.9 398.6,223.8 397.2,225.4 396.2,226.3 395.3,227.0 393.3,228.3 391.1,229.6 381.6,234.2 376.9,236.6 372.5,239.2 368.0,242.1 365.4,243.9 363.1,245.6 360.7,247.5 358.1,249.6 355.4,251.9 353.1,254.1 348.6,258.6 345.9,261.4 343.6,264.0 335.2,273.7 330.0,280.1 325.0,286.4 320.6,292.4 315.8,299.0 309.6,307.9 300.4,321.2 294.1,330.1 287.3,339.2 284.5,342.8 281.6,346.4 278.6,349.9 275.6,353.2 272.6,356.3 269.5,359.1 266.3,361.6 264.8,362.7 263.3,363.7 261.7,364.6 260.2,365.4 258.7,366.1 257.2,366.6 255.7,367.0 254.2,367.3 252.9,367.4 250.1,367.4 248.7,367.2 247.3,366.9 245.9,366.4 244.5,365.7 243.0,364.9 241.6,364.0 240.1,362.8 238.6,361.4 237.0,359.8 235.5,358.1 234.0,356.2 232.5,354.1 231.1,351.8 229.6,349.3 228.1,346.7 226.7,344.0 223.9,338.1 221.2,331.7 218.6,324.9 216.2,317.9 213.9,310.6 211.8,303.3 209.7,295.9 207.9,288.6 205.4,277.9 203.2,267.7 201.4,258.2 199.9,249.4 198.3,238.8 197.0,229.7 196.1,221.8 195.5,215.2 195.1,208.4 195.0,202.1 195.2,198.0 195.4,196.0 195.6,194.2 195.9,192.6 196.4,190.9 197.3,188.7 197.7,187.8 198.4,186.8 199.1,185.8 199.8,185.0 200.6,184.3 201.6,183.5 203.3,182.3 205.6,181.0 214.9,176.2 219.3,173.8 223.1,171.6 226.8,169.2 231.2,166.1 235.5,162.7 239.7,159.0 243.9,155.0 247.8,150.8 251.6,146.6 255.6,141.7 259.3,136.8 264.8,129.4 269.3,122.9 274.3,115.6 280.6,105.8" fill="none" stroke="#1808dc" stroke-opacity="0.3" stroke-width="1.2" stroke-linejoin="round"/>
<polyline points="293.6,258.6 289.7,264.0 286.0,268.8 282.7,272.7 279.1,276.6 275.5,280.2 272.4,282.8 270.8,284.1 269.2,285.2 267.6,286.2 265.9,287.2 264.3,288.0 262.6,288.7 260.1,289.5 258.3,289.8 256.6,290.0 254.9,290.0 254.1,289.9 252.4,289.6 250.7,289.2 249.0,288.5 248.2,288.2 246.5,287.2 245.7,286.7 244.8,286.1 243.2,284.8 241.6,283.3 240.1,281.6 238.6,279.7 237.1,277.7 235.6,275.5 234.2,273.2 232.9,270.8 231.6,268.3 230.3,265.6 229.1,262.9 228.0,260.1 226.4,255.8 225.4,252.9 224.0,248.6 222.0,241.5 220.9,237.3 220.0,233.2 219.2,229.2 218.5,225.5 217.5,218.5 217.1,215.2 216.8,211.2 216.6,208.4 216.5,205.0 216.6,202.6 216.7,199.6 216.9,196.9 217.3,194.5 217.7,192.2 218.3,190.2 218.7,188.7 219.4,186.9 220.1,185.2 220.9,183.7 221.8,182.2 222.7,180.8 223.7,179.4 225.0,177.8 226.9,175.5 229.0,173.3 241.6,161.1 245.2,157.4 248.6,153.8 252.3,149.6 255.7,145.6 259.4,141.1 263.4,135.9 269.1,128.0 275.6,118.6 282.0,109.1 296.8,86.3 300.5,80.9 304.3,75.4 308.2,69.9 312.3,64.4 316.6,59.2 319.6,55.8 322.6,52.7 324.1,51.2 327.2,48.5 328.7,47.2 330.3,46.1 331.9,45.0 333.5,44.1 335.1,43.2 336.7,42.5 338.3,41.9 340.0,41.5 341.6,41.2 343.2,41.0 344.9,41.0 346.5,41.1 348.1,41.4 349.8,41.9 351.4,42.6 353.0,43.4 354.6,44.4 356.2,45.6 357.8,46.9 359.3,48.5 360.9,50.2 362.4,52.0 363.9,54.1 365.4,56.3 366.9,58.7 368.4,61.2 369.8,63.9 371.2,66.7 372.5,69.6 375.2,75.8 376.4,79.0 378.9,85.8 380.0,89.3 382.3,96.4 384.4,103.6 386.3,110.9 388.1,118.1 389.8,125.2 391.3,132.2 393.3,142.2 395.0,151.6 396.5,160.3 397.7,168.2 398.9,177.5 399.7,183.7 400.3,190.8 400.8,196.8 401.0,201.8 401.0,206.1 400.8,210.4 400.4,213.8 400.1,215.5 399.8,217.0 399.4,218.3 398.8,219.9 398.3,220.9 397.6,222.0 396.9,223.0 396.1,223.9 395.4,224.7 394.3,225.6 392.4,227.0 390.0,228.4 379.5,233.7 374.3,236.5 369.6,239.4 364.9,242.6 362.1,244.6 359.3,246.8 356.7,249.0 353.9,251.4 351.0,254.2 348.5,256.7 343.6,261.9 339.4,266.8 334.8,272.4 329.9,278.9 325.2,285.3 321.0,291.3 316.5,298.0 297.2,327.6 292.1,335.0 288.1,340.6 283.9,346.2 279.6,351.5 276.6,355.0 275.1,356.6 272.0,359.7 268.9,362.5 267.3,363.8 265.7,365.0 264.1,366.0 262.5,367.0 260.9,367.9 259.2,368.6 257.6,369.3 255.9,369.7 254.3,370.1 252.6,370.3 251.0,370.3 249.3,370.1 247.7,369.8 246.0,369.4 244.4,368.7 242.7,367.9 241.1,366.9 239.5,365.7 237.9,364.3 236.3,362.7 234.7,361.0 233.2,359.1 231.6,357.0 230.1,354.7 228.6,352.3 227.2,349.7 225.7,347.0 224.3,344.1 221.6,338.0 219.0,331.4 216.5,324.5 215.3,321.0 213.1,313.7 210.0,302.6 207.2,291.5 204.8,280.7 202.6,270.3 200.3,257.5 198.4,246.0 196.9,235.8 195.6,225.1 194.8,216.4 194.5,212.0 194.4,208.1 194.3,204.7 194.4,200.9 194.5,198.5 194.8,195.7 195.1,193.9 195.6,191.9 196.1,190.2 196.7,188.7 197.4,187.5 198.3,186.2 199.2,185.1 200.4,184.0 201.5,183.1 202.5,182.4 205.1,180.9 207.5,179.6 216.1,175.4 219.1,173.8 221.9,172.2 226.6,169.4 231.4,166.1 234.1,164.1 237.0,161.7 239.7,159.5 242.4,157.0 245.4,154.2 247.9,151.7 250.7,148.8 253.5,145.6 257.8,140.6 262.5,134.7 266.8,128.9 271.6,122.3 275.8,116.1 280.4,109.3 298.9,81.1 304.0,73.6 308.0,68.0 312.1,62.5 316.5,57.1 319.5,53.7 321.0,52.1 324.0,49.0 327.2,46.3 328.8,45.0 330.4,43.8 332.0,42.8 333.6,41.8 335.2,40.9 336.9,40.2 338.5,39.6 340.2,39.2 341.8,38.9 343.5,38.7 345.1,38.7 346.8,38.9 348.4,39.2 350.1,39.7 351.7,40.4 353.4,41.3 355.0,42.4 356.6,43.6 358.2,45.0 359.8,46.6 361.4,48.4 362.9,50.3 364.5,52.4 366.0,54.7 367.4,57.2 368.9,59.8 370.3,62.5 371.7,65.4 374.5,71.6 375.8,74.8 378.3,81.6 380.7,88.7 382.9,96.0 385.0,103.4 387.0,110.8 388.8,118.2 390.4,125.4 391.9,132.5 393.9,142.6 395.6,152.1 397.1,160.8" fill="none" stroke="#e40c1c" stroke-opacity="0.93" stroke-width="1.2" stroke-linejoin="round"/>
<polyline points="294.5,259.2 290.4,264.6 286.6,269.3 282.6,274.0 279.0,277.8 276.7,280.0 275.2,281.4 272.0,284.0 270.4,285.2 268.7,286.3 267.0,287.3 265.4,288.1 263.6,288.9 261.9,289.5 259.3,290.2 257.6,290.4 255.8,290.5 254.0,290.4 253.2,290.2 251.4,289.9 249.7,289.3 248.0,288.5 247.1,288.0 246.3,287.5 244.7,286.4 243.8,285.7 242.2,284.3 240.7,282.7 239.1,280.9 237.6,278.9 236.2,276.8 234.8,274.5 233.4,272.1 232.1,269.6 230.8,267.0 228.5,261.5 227.4,258.7 225.8,254.4 224.9,251.5 223.6,247.2 222.4,242.9 221.3,238.6 220.3,234.5 219.5,230.5 218.8,226.7 218.2,223.1 217.7,219.6 217.1,215.2 216.9,212.2 216.6,208.4 216.6,205.8 216.6,202.6 216.7,199.6 216.9,197.6 217.2,195.1 217.6,192.7 218.2,190.0 218.9,187.4 220.2,183.1 220.9,181.3 221.7,179.6 222.5,178.0 223.4,176.5 224.3,175.1 225.4,173.7 227.1,171.8 228.9,169.9 240.6,159.0 244.2,155.4 247.6,151.7 251.3,147.6 255.3,142.8 259.0,138.1 263.0,132.7 268.9,124.5 275.4,114.7 280.9,106.3 293.5,86.7 300.6,75.6 304.4,70.0 308.4,64.3 312.6,58.8 316.9,53.5 319.9,50.1 323.0,47.0 324.6,45.5 326.2,44.1 327.9,42.8 329.6,41.6 331.3,40.4 333.1,39.4 334.9,38.5 336.8,37.7 338.8,37.0 340.8,36.6 342.9,36.3 345.1,36.2 347.3,36.5 349.4,36.9 351.4,37.6 353.5,38.5 355.4,39.6 357.3,40.9 359.0,42.3 360.8,43.9 362.5,45.7 364.1,47.6 365.7,49.7 367.2,51.9 368.7,54.3 370.2,56.8 371.6,59.5 373.0,62.2 374.4,65.2 377.0,71.3 378.3,74.6 380.8,81.3 381.9,84.8 384.2,91.9 385.3,95.5 387.3,102.8 389.2,110.2 390.9,117.5 392.5,124.6 394.6,135.1 396.5,144.9 398.1,154.1 399.4,162.6 400.8,172.7 401.6,179.4 402.4,187.1 402.9,193.8 403.3,200.6 403.3,205.1 403.2,209.7 402.8,213.5 402.5,215.4 402.1,217.1 401.6,218.6 401.1,220.0 400.6,221.2 399.8,222.6 399.0,223.8 398.1,224.9 397.2,225.8 396.0,226.8 393.8,228.4 391.4,229.8 388.7,231.2 382.0,234.4 376.7,237.2 372.3,239.9 367.8,242.8 365.2,244.7 362.5,246.7 360.1,248.7 357.6,250.9 354.9,253.4 352.5,255.7 348.0,260.4 344.1,264.8 340.0,269.8 333.7,277.2 329.0,283.0 324.8,288.5 320.3,294.6 315.4,301.4 301.0,322.3 296.0,329.4 290.6,336.8 286.5,342.3 282.1,347.7 279.2,351.2 276.1,354.5 273.0,357.6 269.9,360.5 268.3,361.8 265.1,364.1 263.5,365.2 262.0,366.1 260.4,366.9 258.8,367.5 257.2,368.1 255.6,368.5 254.1,368.8 252.5,368.9 251.0,368.9 249.5,368.8 248.0,368.5 246.4,368.1 244.9,367.5 243.4,366.8 241.8,365.8 240.3,364.7 238.7,363.4 237.1,361.9 235.6,360.2 234.0,358.4 232.5,356.3 231.0,354.1 229.5,351.8 228.0,349.2 226.6,346.5 225.1,343.7 222.4,337.7 219.7,331.2 217.2,324.3 216.0,320.8 213.6,313.5 211.5,306.2 208.5,295.1 205.8,284.2 204.2,277.1 203.5,273.7 201.0,260.5 198.9,248.7 197.4,238.2 196.0,227.1 195.4,221.4 194.9,216.4 194.6,212.0 194.5,208.1 194.4,203.7 194.5,200.9 194.6,198.5 194.9,195.7 195.1,193.9 195.6,191.9 196.1,190.2 196.7,188.7 197.4,187.5 198.2,186.2 199.2,185.1 200.4,183.9 202.3,182.5 204.8,181.0 207.4,179.6 216.0,175.3 221.5,172.3 226.1,169.4 230.4,166.4 233.1,164.4 235.9,162.1 238.4,159.9 241.1,157.4 243.9,154.7 246.3,152.2 248.9,149.4 251.6,146.3 255.7,141.4 259.4,136.5 264.9,129.0 270.2,121.4 278.0,109.7 292.3,87.2 300.7,74.2 304.6,68.4 307.2,64.6 311.4,58.9 315.8,53.5 318.8,50.0 320.3,48.4 323.5,45.2 326.8,42.4 328.5,41.1 330.2,39.9 331.9,38.8 333.7,37.8 335.5,37.0 337.5,36.2 339.4,35.6 341.3,35.2 343.3,35.0 345.3,35.0 347.4,35.2 349.4,35.7 351.3,36.3 353.3,37.1 355.2,38.2 357.1,39.4 358.9,40.8 360.7,42.4 362.4,44.2 364.1,46.1 365.7,48.2 367.3,50.5 368.9,52.9 370.4,55.5 371.9,58.2 373.3,61.0 374.8,64.0 376.2,67.1 377.5,70.3 380.1,77.1 382.5,84.1 384.8,91.4 386.9,98.8 388.9,106.3 390.7,113.8 393.2,124.8 394.6,131.9 396.6,142.1 398.2,151.6 399.6,160.4" fill="none" stroke="#1808dc" stroke-opacity="0.3" stroke-width="1.2" stroke-linejoin="round"/>
<polyline points="226.5,261.4 224.9,256.8 222.9,250.7 221.2,244.6 219.7,238.7 218.4,233.0 217.2,226.3 216.2,220.1 215.6,214.5 215.2,209.5 215.1,205.1 215.2,201.1 215.5,196.9 216.1,193.3 216.8,190.2 217.8,187.4 218.3,186.1 219.1,184.5 220.1,182.7 221.5,180.6 223.0,178.7 224.6,176.8 226.6,174.7 228.8,172.6 236.9,165.0 240.6,161.5 243.7,158.4 246.6,155.5 250.2,151.6 254.0,147.2 257.6,142.9 261.4,138.1 264.8,133.6 267.7,129.6 271.6,124.1 274.9,119.3 281.2,109.9 296.0,87.3 303.3,76.4 307.3,70.8 310.0,67.1 312.8,63.5 315.6,60.0 318.5,56.6 320.0,55.0 323.0,51.9 326.1,49.0 329.3,46.5 330.8,45.4 332.4,44.3 334.0,43.4 335.7,42.6 337.3,41.9 338.9,41.4 340.5,41.0 342.2,40.7 343.8,40.6 345.4,40.6 347.1,40.8 348.7,41.2 350.3,41.8 352.0,42.5 353.6,43.4 355.2,44.4 356.8,45.7 358.4,47.1 359.9,48.7 361.5,50.5 363.0,52.4 364.5,54.5 366.0,56.8 367.5,59.2 368.9,61.8 370.3,64.5 371.7,67.4 373.1,70.4 375.7,76.7 378.2,83.3 380.5,90.3 382.7,97.5 385.8,108.4 387.6,115.7 390.1,126.4 392.3,136.7 394.8,149.6 396.7,161.2 398.2,171.5 399.4,180.4 400.3,189.8 400.9,197.3 401.0,201.1 401.1,204.5 401.0,207.4 400.9,209.9 400.7,212.1 400.5,214.0 400.1,215.7 399.7,217.6 399.1,219.3 398.5,220.7 397.5,222.4 396.2,224.0 394.7,225.3 392.8,226.7 391.2,227.7 389.3,228.8 379.7,233.6 374.3,236.5 371.3,238.3 368.5,240.1 366.0,241.8 363.3,243.7 358.8,247.2 354.4,251.0 350.0,255.2 345.2,260.1 340.6,265.4 336.1,270.7 331.3,277.0 326.0,284.2 321.8,290.2 316.5,298.1 300.7,322.2 294.6,331.4 289.4,338.9 286.6,342.6 283.8,346.3 281.0,349.9 278.0,353.4 275.0,356.7 272.0,359.8 268.8,362.6 267.2,363.8 265.6,365.0 264.0,366.1 262.4,367.1 260.8,367.9 259.1,368.7 257.5,369.3 255.8,369.8 254.2,370.1 252.5,370.3 250.9,370.3 249.2,370.1 247.6,369.8 245.9,369.3 244.3,368.7 242.6,367.8 241.0,366.8 239.4,365.6 237.8,364.2 236.2,362.6 234.6,360.9 233.1,358.9 231.5,356.8 230.0,354.6 228.5,352.1 227.1,349.5 225.6,346.8 224.2,343.9 222.9,340.9 220.2,334.6 217.7,327.8 215.3,320.8 213.0,313.5 209.9,302.4 208.0,295.0 205.5,284.0 203.3,273.5 201.3,263.6 199.2,251.4 197.6,240.6 196.3,231.2 195.2,221.3 194.6,213.3 194.3,206.9 194.3,203.7 194.4,200.9 194.5,198.4 194.7,196.3 195.0,194.5 195.5,192.3 196.0,190.6 196.6,189.1 197.6,187.2 198.1,186.4 198.8,185.5 199.6,184.7 200.4,183.9 202.3,182.5 203.9,181.5 205.8,180.5 215.5,175.7 221.0,172.8 223.9,171.1 226.6,169.4 229.1,167.7 231.8,165.8 235.8,162.8 240.1,159.1 244.4,155.2 248.5,151.1 251.2,148.2 253.5,145.6 258.5,139.7 263.2,133.7 268.4,126.7 273.3,119.8 278.6,112.0 295.3,86.4 302.7,75.4 306.7,69.8 309.4,66.1 312.2,62.4 315.1,58.8 318.0,55.3 319.5,53.6 322.6,50.5 325.7,47.5 328.9,44.9 330.5,43.8 332.1,42.7 333.7,41.7 335.3,40.9 337.0,40.2 338.6,39.6 340.3,39.2 341.9,38.9 343.6,38.7 345.2,38.7 346.9,38.9 348.5,39.3 350.2,39.8 351.8,40.5 353.5,41.4 355.1,42.4 356.7,43.7 358.3,45.1 359.9,46.7 361.5,48.5 363.0,50.4 364.5,52.6 366.0,54.9 367.5,57.3 369.0,59.9 370.4,62.7 371.8,65.6 373.2,68.6 375.8,75.0 378.4,81.8 380.7,88.9 383.0,96.2 385.1,103.6 387.9,114.7 390.5,125.6 392.0,132.7 393.3,139.5 395.7,152.3 397.5,163.7 399.3,176.0 400.0,182.4 400.6,188.0 401.0,193.0 401.3,197.4 401.4,201.2 401.5,204.5 401.4,207.4 401.3,209.9 401.1,212.1 400.8,214.7 400.4,216.3 399.9,218.1 399.3,219.6 398.7,221.0 398.0,222.1 397.1,223.3 396.2,224.4 394.9,225.4 393.4,226.5 391.9,227.5" fill="none" stroke="#e40c1c" stroke-opacity="0.93" stroke-width="1.2" stroke-linejoin="round"/>
<polyline points="227.0,261.2 224.8,255.1 222.9,249.0 221.3,243.0 219.9,237.1 218.7,231.5 217.5,224.9 216.6,218.9 215.9,212.4 215.7,207.7 215.6,203.4 215.8,199.0 215.7,198.5 216.0,195.9 216.3,194.2 216.7,191.9 217.8,187.9 219.0,184.3 219.7,182.6 220.5,180.9 221.5,179.1 222.6,177.3 223.9,175.6 225.5,173.8 227.0,172.2 228.9,170.4 235.7,164.3 239.0,161.3 242.0,158.4 244.8,155.6 248.2,151.9 251.4,148.3 254.8,144.3 258.4,139.7 263.7,132.7 266.6,128.7 270.4,123.2 273.7,118.4 280.9,107.6 295.8,84.6 300.6,77.2 304.4,71.6 309.8,64.1 312.6,60.5 315.5,56.9 318.4,53.5 321.4,50.3 324.5,47.3 327.7,44.5 329.4,43.3 331.0,42.2 332.7,41.1 334.4,40.2 336.2,39.4 338.0,38.7 339.9,38.2 341.8,37.8 343.7,37.6 345.7,37.7 347.6,38.0 349.6,38.4 351.5,39.1 353.3,40.0 355.1,41.1 356.8,42.3 358.5,43.7 360.2,45.3 361.8,47.1 363.4,49.0 364.9,51.1 366.4,53.3 367.9,55.7 369.3,58.2 370.8,60.8 372.2,63.6 373.5,66.6 376.2,72.8 378.7,79.3 381.0,86.2 383.3,93.4 384.3,97.0 386.3,104.3 388.2,111.7 390.8,122.5 393.0,133.1 395.5,146.3 397.5,158.3 399.1,168.9 400.3,178.2 401.3,187.9 401.9,195.9 402.0,199.9 402.1,203.4 402.1,206.4 401.9,209.1 401.7,211.5 401.4,213.5 401.1,215.3 400.6,217.4 399.9,219.2 399.3,220.6 398.2,222.5 397.6,223.3 396.7,224.2 395.2,225.5 393.2,226.9 391.8,227.7 389.9,228.7 380.0,233.4 374.2,236.4 371.2,238.1 368.4,239.8 365.4,241.7 362.6,243.6 358.0,247.1 353.3,250.9 348.7,254.9 343.7,259.8 338.7,265.0 334.0,270.4 328.8,276.6 323.9,282.8 318.6,289.8 313.9,296.4 308.8,303.6 297.5,320.1 296.2,321.8 288.3,332.5 284.1,337.9 281.2,341.4 278.3,344.8 275.4,348.2 272.4,351.3 269.4,354.2 266.4,356.8 263.5,359.0 262.1,360.0 260.7,360.9 259.3,361.6 258.0,362.2 256.7,362.7 255.4,363.1 254.3,363.3 253.2,363.4 250.2,363.4 249.2,363.3 248.1,363.0 247.0,362.7 245.8,362.1 244.7,361.5 243.4,360.6 242.1,359.5 240.7,358.3 239.4,356.9 238.0,355.2 236.5,353.4 235.1,351.3 233.6,349.2 232.2,346.8 230.8,344.2 228.0,338.7 225.2,332.6 222.6,326.1 220.1,319.2 217.7,312.1 215.4,304.9 212.3,293.9 210.3,286.7 207.8,276.2 205.6,266.1 203.7,256.7 202.1,248.0 200.3,237.7 199.0,228.7 198.1,221.0 197.3,213.1 196.9,206.8 196.8,200.1 196.8,197.9 197.0,196.0 197.2,194.3 197.5,192.4 198.0,190.8 198.6,189.2 199.4,187.7 200.5,186.3 201.9,184.9 203.6,183.5 206.7,181.7 215.2,177.1 219.8,174.5 226.3,170.4 228.8,168.7 231.3,166.8 235.2,163.7 239.0,160.5 242.5,157.1 246.4,153.2 248.9,150.4 251.0,147.9 255.5,142.4 257.9,139.3 263.8,131.2 268.3,125.0 272.4,119.2 277.6,111.4 294.2,85.7 302.8,72.7 308.1,65.1 310.9,61.4 313.8,57.7 316.7,54.2 318.2,52.4 321.3,49.2 324.5,46.1 327.7,43.4 329.4,42.2 331.0,41.0 332.7,40.0 334.4,39.1 336.2,38.3 338.0,37.6 339.8,37.1 341.6,36.8 343.5,36.6 345.4,36.6 347.2,36.8 349.1,37.2 350.9,37.8 352.7,38.6 354.5,39.6 356.3,40.7 358.0,42.1 359.7,43.6 361.4,45.3 363.0,47.2 364.6,49.3 366.1,51.5 367.7,53.9 369.2,56.4 370.6,59.1 372.1,61.9 373.5,64.8 376.2,71.1 378.7,77.8 381.2,84.8 383.4,92.0 385.6,99.4 388.5,110.6 391.0,121.7 392.6,128.9 394.0,135.9 396.4,149.0 397.4,155.0 398.7,163.5 400.3,175.9 401.0,182.3 401.6,187.9 402.0,192.9 402.2,197.3 402.3,201.2 402.4,204.5 402.1,209.2 401.9,211.5 401.5,214.2 401.1,215.9 400.6,217.8 400.0,219.5 399.3,220.9 398.4,222.3 397.4,223.6 396.4,224.6 395.1,225.7 393.6,226.7 392.0,227.7" fill="none" stroke="#1808dc" stroke-opacity="0.3" stroke-width="1.2" stroke-linejoin="round"/>
<polyline points="237.0,265.2 235.8,263.2 234.7,261.1 233.5,258.9 232.0,255.5 230.0,250.8 227.9,244.8 226.0,238.7 224.4,232.7 223.2,227.0 222.0,220.5 221.2,214.5 220.8,209.1 220.7,204.2 220.8,199.8 221.2,196.0 221.5,194.2 222.0,192.0 222.4,190.4 223.0,188.4 223.7,186.6 224.4,184.8 225.7,182.3 227.1,180.0 228.9,177.4 230.9,174.9 234.3,170.9 244.8,159.7 251.1,152.6 254.3,148.8 257.8,144.5 260.9,140.6 264.2,136.2 270.0,128.2 276.4,118.8 281.8,110.6 295.3,89.9 302.5,79.2 306.3,73.7 309.0,70.1 311.7,66.5 314.5,63.0 318.8,57.9 321.8,54.8 324.8,51.9 327.9,49.2 329.4,48.0 331.0,46.9 332.6,45.9 334.2,45.1 335.8,44.3 337.4,43.6 339.0,43.1 340.6,42.7 342.2,42.4 343.9,42.3 345.5,42.4 347.1,42.6 348.7,43.0 350.3,43.5 351.9,44.2 353.5,45.1 355.1,46.1 356.7,47.4 358.3,48.8 359.8,50.3 361.3,52.1 362.8,54.0 364.3,56.1 365.8,58.3 367.3,60.7 368.7,63.2 370.1,65.9 371.5,68.7 374.1,74.7 376.6,81.1 379.0,87.8 381.3,94.7 382.4,98.3 384.4,105.4 386.3,112.6 388.9,123.3 391.2,133.6 393.2,143.5 395.4,155.6 397.1,166.5 398.4,176.0 399.6,186.1 400.3,194.3 400.6,198.5 400.7,202.1 400.7,205.3 400.6,208.1 400.5,210.5 400.3,212.6 400.0,214.5 399.6,216.6 399.0,218.4 398.5,219.9 397.5,221.8 396.9,222.6 396.2,223.6 395.4,224.4 394.6,225.2 392.7,226.7 391.1,227.7 389.2,228.7 379.3,233.7 373.8,236.8 370.8,238.6 368.0,240.4 365.5,242.1 362.8,244.1 358.6,247.3 354.2,251.2 349.8,255.4 345.6,259.8 340.9,264.9 336.5,270.2 331.7,276.4 326.4,283.6 322.4,289.4 317.0,297.3 300.2,322.9 294.1,332.1 288.8,339.6 286.1,343.3 283.3,347.0 280.4,350.6 277.4,354.0 274.4,357.3 271.3,360.3 268.2,363.1 266.6,364.3 265.0,365.5 263.4,366.5 261.8,367.4 260.1,368.2 258.5,368.9 256.8,369.5 255.2,369.9 253.5,370.2 251.9,370.3 250.2,370.2 248.6,370.0 246.9,369.6 245.3,369.1 243.6,368.3 242.0,367.4 240.4,366.3 238.8,365.1 237.2,363.6 235.6,361.9 234.0,360.1 232.5,358.1 231.0,356.0 229.5,353.6 228.0,351.1 226.5,348.5 225.1,345.7 223.7,342.8 221.0,336.6 218.4,329.9 216.0,322.9 213.7,315.7 212.6,312.1 210.5,304.6 208.6,297.2 206.0,286.2 203.7,275.6 201.7,265.5 199.5,253.2 197.8,242.1 196.5,232.5 195.4,222.4 194.7,214.2 194.4,207.6 194.3,204.3 194.4,201.4 194.5,198.9 194.7,196.7 195.0,194.8 195.4,192.6 195.9,190.8 196.5,189.3 197.0,188.3 197.6,187.1 198.2,186.3 198.9,185.4 199.7,184.6 200.5,183.9 202.4,182.5 204.0,181.5 205.9,180.5 215.6,175.6 221.1,172.7 224.0,171.0 226.8,169.3 229.7,167.3 232.3,165.4 236.4,162.3 240.8,158.5 244.6,155.0 248.7,150.9 251.5,147.9 253.8,145.3 258.7,139.4 263.5,133.4 268.7,126.3 273.6,119.4 278.9,111.5 295.8,85.7 302.0,76.5 305.9,70.9 308.6,67.2 311.4,63.5 314.2,59.9 318.6,54.6 321.7,51.4 324.8,48.4 327.9,45.7 329.5,44.5 331.1,43.3 332.7,42.3 334.3,41.4 336.0,40.6 337.6,39.9 339.3,39.4 340.9,39.0 342.6,38.8 344.2,38.7 345.9,38.8 347.5,39.0 349.2,39.4 350.8,40.0 352.5,40.8 354.1,41.8 355.7,42.9 357.3,44.2 358.9,45.7 360.5,47.4 362.1,49.2 363.6,51.3 365.1,53.5 366.6,55.8 368.1,58.3 369.6,61.0 371.0,63.8 372.4,66.8 375.1,73.1 377.6,79.7 380.0,86.7 382.3,94.0 384.5,101.3 387.4,112.5 390.0,123.4 391.5,130.6 392.9,137.5 395.4,150.4 397.3,162.0 399.1,174.6 399.9,181.2 400.5,186.9 400.9,192.0 401.2,196.5 401.4,200.5 401.5,203.9 401.5,206.9 401.3,209.5 401.2,211.7 400.8,214.3 400.5,216.0 400.0,217.8 399.4,219.4 398.8,220.8 398.0,222.2 397.0,223.4 395.9,224.6 394.6,225.7 393.1,226.7 391.3,227.8" fill="none" stroke="#e40c1c" stroke-opacity="0.93" stroke-width="1.2" stroke-linejoin="round"/>
<polyline points="237.4,264.9 236.2,263.0 235.1,260.9 234.0,258.7 232.4,255.3 231.4,253.0 230.0,249.5 227.9,243.4 226.1,237.4 225.1,233.8 224.3,230.3 222.9,223.6 221.9,217.4 221.3,211.7 221.0,206.5 221.0,202.0 221.1,199.9 221.3,197.3 221.5,195.5 221.9,193.1 222.4,191.0 222.9,188.9 223.5,187.0 224.4,184.6 226.0,180.6 227.5,177.6 229.0,175.1 230.5,172.8 232.3,170.5 235.5,166.6 245.6,155.6 248.5,152.3 251.6,148.6 254.9,144.6 257.9,140.8 265.1,131.0 270.4,123.5 276.2,114.8 281.7,106.4 294.3,86.7 302.7,73.9 307.9,66.5 310.6,62.8 313.4,59.2 317.7,54.0 320.7,50.8 323.8,47.7 327.0,45.0 328.6,43.7 330.3,42.5 332.0,41.5 333.8,40.5 335.6,39.7 337.6,38.9 339.5,38.4 341.6,38.0 343.7,37.8 345.9,37.9 348.0,38.2 350.2,38.7 352.2,39.5 354.2,40.4 356.1,41.6 357.9,42.9 359.6,44.4 361.3,46.0 362.9,47.8 364.5,49.8 366.0,51.9 367.5,54.1 369.0,56.5 370.4,59.0 371.8,61.7 373.2,64.5 375.8,70.4 378.3,76.7 380.7,83.4 383.0,90.4 384.1,93.9 386.1,101.1 388.0,108.4 390.6,119.2 392.9,129.7 395.5,143.0 397.7,155.2 399.3,166.2 400.6,175.7 401.8,185.9 402.4,194.2 402.7,198.4 402.8,202.1 402.8,205.3 402.7,208.2 402.5,210.7 402.3,212.9 402.0,214.9 401.5,217.1 401.0,218.6 400.4,220.4 399.4,222.2 398.8,223.2 398.1,224.0 396.8,225.5 395.1,226.8 393.2,228.1 390.8,229.4 381.6,233.9 376.3,236.7 371.8,239.4 367.6,242.1 365.0,243.9 362.7,245.6 360.2,247.6 357.7,249.7 354.9,252.1 352.6,254.3 348.0,258.8 345.3,261.7 343.0,264.3 335.2,273.3 330.0,279.7 325.1,286.0 319.7,293.2 314.9,299.9 299.4,322.4 294.3,329.5 287.5,338.7 284.7,342.3 281.8,345.9 278.9,349.3 275.9,352.6 272.8,355.8 269.8,358.6 266.7,361.2 265.1,362.3 263.6,363.4 262.0,364.3 260.5,365.1 259.0,365.8 257.5,366.3 256.1,366.8 254.6,367.1 253.2,367.3 250.5,367.3 249.1,367.1 247.7,366.8 246.3,366.4 244.9,365.8 243.5,365.0 242.0,364.1 240.6,363.0 239.1,361.7 237.5,360.2 236.0,358.5 234.6,356.6 233.1,354.6 231.6,352.3 230.1,349.9 228.6,347.4 227.2,344.7 225.8,341.8 223.0,335.7 220.4,329.2 217.9,322.3 215.5,315.2 213.2,307.9 210.1,296.8 208.3,289.5 205.7,278.8 203.5,268.6 201.7,259.0 200.1,250.1 198.5,239.5 197.2,230.2 196.1,220.5 195.5,212.7 195.2,206.4 195.2,200.6 195.3,198.2 195.5,196.1 195.7,194.3 196.1,192.3 196.6,190.6 197.1,189.2 198.1,187.4 199.3,185.7 200.8,184.2 202.7,182.8 204.2,181.8 206.1,180.8 215.4,176.0 220.5,173.2 223.4,171.5 226.1,169.7 228.5,168.1 231.1,166.2 235.0,163.1 239.2,159.5 242.8,156.1 246.7,152.1 249.3,149.2 251.5,146.8 256.1,141.1 262.5,132.6 267.6,125.5 271.5,119.7 276.7,112.0 293.1,86.5 302.8,71.6 308.1,63.9 310.9,60.2 313.8,56.5 316.7,52.9 318.2,51.2 321.3,47.9 324.5,44.9 326.1,43.5 327.8,42.1 329.5,40.9 331.2,39.8 333.0,38.7 334.7,37.8 336.6,37.0 338.4,36.4 340.3,35.9 342.3,35.6 344.2,35.5 346.2,35.6 348.2,35.9 350.1,36.4 352.0,37.1 353.9,38.0 355.8,39.1 357.6,40.4 359.4,41.9 361.1,43.5 362.8,45.4 364.4,47.3 366.1,49.5 367.6,51.8 369.2,54.3 370.7,56.9 372.1,59.7 373.6,62.6 375.0,65.6 376.3,68.7 379.0,75.3 381.4,82.3 383.7,89.5 384.8,93.2 386.9,100.6 389.8,111.9 392.3,122.9 393.8,130.1 395.2,137.0 397.5,150.0 398.5,156.1 399.8,164.4 401.4,176.6 402.1,183.0 402.6,188.5 403.0,193.5 403.2,197.8 403.3,201.6 403.3,204.9 403.2,207.8 403.1,210.4 402.8,212.6 402.4,215.2 402.0,216.9 401.4,218.8 400.8,220.4 400.1,221.9 399.1,223.4 398.0,224.7 396.9,225.8 395.6,226.9 393.9,228.0 392.0,229.1" fill="none" stroke="#1808dc" stroke-opacity="0.3" stroke-width="1.2" stroke-linejoin="round"/>
<polyline points="265.2,269.5 263.9,270.0 262.6,270.3 260.6,270.7 258.6,270.9 256.6,270.9 254.6,270.6 252.7,270.0 250.7,269.2 248.8,268.1 246.9,266.7 245.1,265.1 243.3,263.2 241.5,261.2 239.9,258.8 238.3,256.3 236.8,253.7 235.3,250.8 233.6,246.9 231.9,242.8 230.5,238.7 229.2,234.5 228.1,230.4 226.9,225.3 226.2,221.4 225.5,216.7 225.0,213.2 224.7,209.0 224.6,205.2 224.6,201.6 224.9,198.3 225.3,194.7 225.9,191.9 226.8,188.8 228.0,185.4 229.4,182.3 231.1,179.4 233.2,176.2 235.3,173.4 237.9,170.2 248.8,157.5 254.3,150.8 260.0,143.6 265.2,136.7 270.9,128.6 276.5,120.3 281.8,112.3 295.0,92.0 300.9,83.2 305.9,76.0 311.2,68.9 315.3,63.7 318.2,60.3 321.1,57.2 324.0,54.2 327.1,51.6 330.2,49.2 331.7,48.2 333.3,47.2 334.9,46.4 336.4,45.7 338.0,45.1 339.6,44.6 341.2,44.3 342.8,44.1 344.4,44.1 346.0,44.2 347.6,44.4 349.2,44.8 350.8,45.4 352.4,46.2 354.0,47.1 355.6,48.2 357.1,49.5 358.7,50.9 360.2,52.5 361.7,54.3 363.2,56.2 364.7,58.3 366.1,60.6 367.5,63.0 368.9,65.5 370.3,68.2 373.0,73.9 375.5,80.0 377.9,86.5 380.2,93.3 381.3,96.8 383.4,103.8 385.4,110.8 388.0,121.4 390.3,131.7 392.4,141.5 394.1,150.8 396.0,162.1 397.5,172.1 398.9,182.8 399.7,191.6 400.2,198.7 400.3,204.5 400.3,207.4 400.2,209.9 400.0,212.1 399.6,214.6 399.3,216.2 398.8,218.1 398.4,219.3 397.9,220.4 397.4,221.3 396.7,222.5 395.4,224.1 394.6,224.9 393.6,225.8 391.6,227.2 389.2,228.6 378.8,234.0 373.9,236.7 369.2,239.6 364.8,242.6 362.1,244.6 359.6,246.5 357.0,248.7 354.8,250.7 351.9,253.3 349.4,255.7 344.6,260.8 339.9,266.1 335.4,271.6 330.5,278.0 325.9,284.4 321.7,290.3 316.4,298.3 300.6,322.4 295.7,329.7 290.6,337.2 285.1,344.6 282.3,348.3 279.4,351.8 276.4,355.2 273.3,358.4 270.2,361.3 268.7,362.7 267.1,364.0 265.5,365.1 263.9,366.2 262.2,367.2 260.6,368.0 259.0,368.7 257.3,369.3 255.7,369.8 254.0,370.1 252.4,370.3 250.7,370.3 249.1,370.1 247.4,369.8 245.8,369.3 244.1,368.6 242.5,367.7 240.8,366.7 239.2,365.4 237.6,364.0 236.0,362.4 234.5,360.7 232.9,358.7 231.4,356.6 229.9,354.3 228.4,351.9 226.9,349.3 225.5,346.5 224.1,343.6 222.7,340.6 220.1,334.2 217.5,327.5 215.2,320.4 214.0,316.8 211.8,309.4 209.8,302.0 207.1,290.9 204.6,280.1 202.5,269.8 200.2,257.0 198.3,245.5 196.9,235.5 195.6,224.8 194.8,216.1 194.4,209.1 194.3,205.6 194.3,202.6 194.4,199.9 194.7,196.9 194.9,195.0 195.4,192.8 195.9,190.9 196.4,189.4 196.9,188.4 197.6,187.2 198.1,186.4 198.9,185.5 199.6,184.7 200.4,183.9 202.4,182.5 203.9,181.5 205.8,180.5 215.8,175.5 221.3,172.6 224.3,170.8 227.0,169.1 229.9,167.1 232.6,165.2 236.7,162.0 241.1,158.2 245.4,154.2 249.6,149.9 254.2,144.8 259.2,138.9 264.0,132.7 269.3,125.5 273.4,119.7 278.7,111.9 295.5,86.2 301.6,77.1 305.5,71.5 308.2,67.7 311.0,64.0 313.8,60.4 316.7,56.8 319.7,53.5 322.8,50.3 325.9,47.4 329.0,44.8 330.6,43.6 332.3,42.6 333.9,41.6 335.5,40.8 337.1,40.1 338.8,39.6 340.4,39.1 342.1,38.8 343.8,38.7 345.4,38.7 347.1,38.9 348.7,39.3 350.4,39.8 352.0,40.6 353.6,41.5 355.3,42.5 356.9,43.8 358.5,45.3 360.1,46.9 361.6,48.7 363.2,50.7 364.7,52.8 366.2,55.1 367.7,57.6 369.1,60.2 370.6,63.0 372.0,65.9 374.7,72.1 377.3,78.8 379.7,85.7 382.0,92.9 383.1,96.6 385.2,104.0 388.0,115.1 390.5,126.0 392.7,136.5 395.2,149.5 397.2,161.3 398.7,171.6 400.0,182.6 400.9,191.6 401.4,198.8 401.5,202.5 401.5,205.6 401.4,208.4 401.2,211.5 400.9,213.5 400.5,215.8 400.0,217.7 399.5,219.3 398.9,220.7 398.0,222.1" fill="none" stroke="#e40c1c" stroke-opacity="0.93" stroke-width="1.2" stroke-linejoin="round"/>
<polyline points="264.9,268.8 263.7,269.2 262.4,269.6 260.5,270.0 258.6,270.2 256.7,270.2 254.8,269.9 252.9,269.4 251.0,268.6 249.1,267.6 247.3,266.3 245.4,264.7 243.7,262.9 241.9,260.8 240.3,258.6 238.7,256.1 237.2,253.5 235.3,249.7 233.5,245.8 231.9,241.7 230.5,237.5 229.2,233.4 228.1,229.3 227.0,224.3 226.2,220.4 225.5,215.8 225.1,212.3 224.8,208.2 224.6,204.5 224.7,201.0 224.9,197.7 225.5,194.1 226.1,191.4 226.9,188.3 227.6,186.3 228.5,183.9 229.5,181.6 230.7,178.9 231.8,176.6 233.1,174.3 234.4,172.1 235.8,169.9 238.0,166.8 240.4,163.6 250.7,150.8 255.4,144.7 260.2,138.4 266.2,129.9 271.5,122.2 276.5,114.7 292.2,90.1 300.3,77.6 305.4,70.2 309.3,64.7 313.5,59.4 316.3,55.9 319.3,52.7 320.8,51.1 323.9,48.2 325.5,46.8 327.2,45.5 328.8,44.3 330.5,43.2 332.3,42.2 334.1,41.3 336.0,40.5 338.0,39.9 340.0,39.4 342.2,39.1 344.5,39.0 346.8,39.2 349.1,39.6 351.3,40.2 353.3,41.0 355.3,42.1 357.2,43.3 359.0,44.6 360.7,46.1 362.4,47.8 364.0,49.6 365.6,51.6 367.1,53.7 368.6,56.0 370.0,58.4 371.4,61.0 372.8,63.6 374.2,66.4 376.8,72.4 379.2,78.7 381.5,85.3 382.7,88.8 384.8,95.7 386.8,102.9 389.5,113.6 392.0,124.2 394.1,134.4 396.5,147.3 398.5,158.9 400.0,169.3 401.4,180.5 402.3,189.7 402.8,197.3 403.0,201.1 403.0,204.5 402.9,207.4 402.8,210.1 402.6,212.4 402.3,214.4 401.9,216.3 401.3,218.4 400.5,220.7 399.9,221.9 399.2,222.9 398.5,223.9 397.6,225.0 396.6,225.9 395.7,226.7 393.7,228.1 391.3,229.5 388.8,230.8 381.5,234.3 376.2,237.1 371.7,239.8 367.5,242.5 365.0,244.4 362.6,246.2 360.2,248.1 357.6,250.3 354.9,252.7 352.6,254.9 348.0,259.6 343.6,264.5 334.5,275.1 329.9,280.7 325.0,287.2 320.5,293.2 315.7,299.9 310.6,307.3 300.3,322.2 295.2,329.4 288.5,338.5 285.7,342.2 282.8,345.8 279.9,349.3 276.9,352.6 273.8,355.8 272.3,357.3 269.2,360.1 267.6,361.4 266.0,362.6 264.5,363.7 262.9,364.7 261.3,365.5 259.8,366.3 258.2,366.9 256.7,367.4 255.2,367.8 253.7,368.0 252.3,368.1 250.8,368.1 249.4,368.0 247.9,367.7 246.4,367.3 245.0,366.7 243.5,365.9 242.0,365.0 240.5,363.9 239.0,362.6 237.4,361.1 235.9,359.5 234.4,357.6 232.9,355.6 231.4,353.4 229.9,351.0 228.4,348.5 227.0,345.8 225.6,342.9 222.8,336.9 220.1,330.4 217.6,323.5 215.2,316.4 214.1,312.8 211.9,305.4 209.8,298.0 207.1,287.1 204.6,276.5 202.6,266.3 200.8,256.9 198.9,245.4 197.4,235.4 196.1,224.8 195.3,216.1 194.9,209.1 194.8,202.6 194.8,200.0 195.0,197.0 195.3,195.0 195.7,192.9 196.2,191.0 196.7,189.5 197.1,188.5 197.8,187.3 198.3,186.5 199.0,185.6 199.8,184.8 200.6,184.1 202.5,182.7 204.0,181.7 205.9,180.6 215.6,175.7 221.0,172.7 223.9,171.0 226.6,169.2 229.1,167.5 231.7,165.6 235.6,162.5 239.9,158.7 243.6,155.2 247.5,151.1 251.8,146.2 256.4,140.5 262.9,131.9 267.3,125.8 272.1,118.8 277.3,110.9 292.6,87.0 302.3,72.0 307.6,64.4 310.4,60.6 313.2,56.9 316.1,53.3 319.2,49.9 322.3,46.7 325.5,43.7 327.2,42.3 328.9,41.1 330.6,39.9 332.4,38.8 334.1,37.9 336.0,37.0 337.8,36.4 339.7,35.8 341.7,35.4 343.7,35.2 345.6,35.3 347.6,35.5 349.7,36.0 351.6,36.7 353.5,37.5 355.4,38.6 357.3,39.8 359.0,41.3 360.8,42.9 362.5,44.6 364.2,46.6 365.8,48.7 367.4,51.0 368.9,53.4 370.4,56.0 371.9,58.8 373.4,61.6 374.8,64.6 377.5,71.0 380.1,77.7 382.5,84.8 384.8,92.1 385.8,95.8 387.9,103.3 390.6,114.5 393.1,125.5 395.2,136.0 397.6,149.1 399.5,160.9 401.2,173.7 402.4,184.3 403.1,193.0 403.5,200.0 403.5,203.6 403.5,206.6 403.4,209.3 403.1,212.4 402.8,214.4 402.3,216.8 401.7,218.7 401.1,220.4 400.3,221.9 399.6,223.2" fill="none" stroke="#1808dc" stroke-opacity="0.3" stroke-width="1.2" stroke-linejoin="round"/>
<polyline points="237.0,178.5 239.5,174.4 242.8,169.8 246.1,165.4 258.1,149.8 262.2,144.3 266.6,138.2 271.5,131.2 276.9,123.1 294.8,95.6 299.3,88.8 302.8,83.6 306.5,78.3 310.4,73.1 314.4,68.0 317.2,64.7 320.0,61.6 321.4,60.1 324.3,57.2 325.8,55.9 328.8,53.5 330.3,52.4 331.9,51.4 333.4,50.5 334.9,49.7 336.5,49.0 338.0,48.4 339.6,48.0 341.2,47.7 342.7,47.5 344.3,47.4 345.9,47.5 347.5,47.8 349.0,48.2 350.6,48.8 352.1,49.5 353.7,50.4 355.2,51.4 356.7,52.6 358.2,54.0 359.7,55.5 361.2,57.2 362.7,59.1 364.1,61.1 365.6,63.3 367.0,65.6 368.3,68.0 369.7,70.6 372.3,76.0 374.8,82.0 377.2,88.2 379.5,94.7 381.6,101.4 383.6,108.3 385.4,115.1 388.0,125.3 390.2,135.2 392.1,144.7 393.8,153.5 395.6,164.4 397.0,173.9 398.1,182.3 398.9,191.1 399.4,196.9 399.6,203.0 399.5,207.8 399.4,210.3 399.2,212.4 398.9,214.3 398.6,216.0 398.2,217.4 397.7,219.1 397.1,220.6 396.4,221.8 395.7,222.9 394.9,223.9 393.9,224.9 392.9,225.9 391.6,226.9 390.0,227.9 387.1,229.6 378.6,234.0 374.0,236.6 369.3,239.5 364.6,242.7 359.8,246.4 355.4,250.1 351.1,254.0 346.5,258.8 341.9,263.7 337.0,269.7 332.2,275.7 327.0,282.8 322.9,288.6 317.7,296.3 299.9,323.5 293.7,332.7 289.8,338.3 287.0,342.0 284.3,345.7 281.4,349.3 278.5,352.8 275.5,356.2 272.4,359.3 269.3,362.1 266.1,364.7 264.5,365.8 262.9,366.8 261.3,367.7 259.6,368.5 258.0,369.1 256.3,369.6 254.7,370.0 253.0,370.2 251.4,370.3 249.7,370.2 248.1,369.9 246.4,369.5 244.8,368.9 243.1,368.1 241.5,367.1 239.9,365.9 238.3,364.6 236.7,363.1 235.1,361.4 233.5,359.5 232.0,357.5 230.5,355.2 229.0,352.8 227.5,350.3 226.1,347.6 224.7,344.8 223.3,341.8 220.6,335.5 219.3,332.2 216.8,325.4 214.5,318.2 213.3,314.6 211.2,307.2 208.3,296.1 205.7,285.1 204.2,278.0 202.1,267.8 200.4,258.2 198.9,249.4 197.7,241.3 196.4,231.8 195.7,225.6 195.0,218.4 194.6,212.3 194.4,207.2 194.3,203.0 194.5,198.7 194.9,195.2 195.2,193.5 195.6,192.0 196.0,190.7 196.4,189.5 196.8,188.5 197.5,187.3 198.6,185.8 199.8,184.5 201.2,183.3 202.9,182.1 206.2,180.3 215.4,175.7 220.9,172.8 223.8,171.1 226.5,169.4 229.0,167.8 231.7,165.9 234.0,164.1 236.5,162.2 239.1,160.0 241.4,158.0 243.8,155.8 246.3,153.4 251.1,148.3 255.8,143.0 260.3,137.5 265.2,131.1 270.6,123.7 274.7,117.7 279.2,111.0 295.0,86.9 299.8,79.7 305.0,72.2 309.0,66.6 313.2,61.1 317.6,55.8 320.6,52.5 322.2,50.9 325.3,47.9 328.4,45.3 330.0,44.1 331.6,43.0 333.2,42.0 334.9,41.1 336.5,40.4 338.2,39.8 339.8,39.3 341.5,38.9 343.1,38.7 344.8,38.7 346.4,38.8 348.1,39.1 349.7,39.6 351.4,40.3 353.0,41.1 354.6,42.1 356.3,43.3 357.9,44.7 359.5,46.2 361.0,48.0 362.6,49.9 364.1,52.0 365.6,54.2 367.1,56.6 368.6,59.2 370.0,61.9 371.4,64.8 372.8,67.8 374.2,70.9 376.8,77.4 378.0,80.9 380.4,87.9 381.6,91.5 383.8,98.8 385.8,106.3 387.7,113.7 389.4,121.0 391.0,128.2 392.5,135.2 393.8,141.9 395.0,148.3 396.5,157.3 397.8,165.6 398.9,173.1 399.7,179.8 400.4,185.7 401.0,192.6 401.3,198.3 401.5,203.2 401.4,207.2 401.3,210.5 401.0,213.3 400.6,215.6 400.0,218.0 399.2,219.9 398.4,221.5 397.4,223.0 396.0,224.5 395.2,225.2 394.1,226.0 391.7,227.6 388.6,229.2 380.3,233.3 376.4,235.3 371.6,238.1 367.1,241.0 364.4,242.9 362.1,244.6 357.5,248.3 352.9,252.4 348.4,256.8" fill="none" stroke="#e40c1c" stroke-opacity="0.93" stroke-width="1.2" stroke-linejoin="round"/>
<polyline points="233.5,176.5 235.8,173.3 238.7,169.7 254.0,151.0 257.7,145.8 264.9,135.5 271.2,126.1 277.6,116.3 292.1,93.8 297.7,85.2 301.2,79.9 305.0,74.6 308.9,69.3 313.0,64.1 315.8,60.8 318.7,57.7 320.2,56.2 323.3,53.4 324.8,52.0 326.4,50.8 328.1,49.7 329.7,48.6 331.4,47.7 333.1,46.8 334.9,46.1 336.6,45.5 338.5,45.0 340.3,44.6 342.3,44.4 344.4,44.4 346.5,44.5 348.5,44.8 350.5,45.3 352.4,46.0 354.3,46.8 356.1,47.7 357.8,48.9 359.5,50.2 361.2,51.6 362.9,53.3 364.5,55.1 366.0,57.1 367.5,59.2 369.0,61.4 370.4,63.8 371.8,66.4 373.1,69.0 374.5,71.8 377.0,77.7 379.4,83.9 381.6,90.4 383.8,97.1 385.8,104.0 387.6,110.9 390.1,121.2 392.4,131.3 394.3,141.0 396.0,150.2 397.8,161.4 399.3,171.3 400.3,180.0 401.2,189.2 401.8,196.8 402.0,202.9 401.9,207.9 401.8,210.5 401.6,212.7 401.3,214.7 400.9,216.5 400.5,218.2 400.0,219.6 399.4,220.9 398.8,222.1 398.1,223.1 397.2,224.3 396.2,225.3 395.0,226.3 393.5,227.4 392.1,228.3 389.4,229.8 381.4,233.7 376.7,236.2 371.5,239.2 366.9,242.1 362.3,245.5 357.7,249.2 353.1,253.2 348.6,257.6 345.9,260.4 343.0,263.5 336.0,271.6 330.9,277.8 326.2,283.9 321.0,290.9 316.3,297.4 310.2,306.1 300.0,321.0 293.6,329.9 286.9,339.0 284.0,342.7 281.1,346.2 276.7,351.3 273.7,354.5 270.6,357.4 267.5,360.1 264.5,362.4 262.9,363.4 261.4,364.3 259.9,365.0 258.4,365.7 256.9,366.2 255.5,366.6 254.1,366.8 252.8,366.9 250.0,366.9 248.8,366.7 247.4,366.4 246.0,365.9 244.6,365.3 243.2,364.5 241.8,363.5 240.3,362.3 238.8,361.0 237.3,359.4 235.8,357.7 234.3,355.8 232.8,353.7 231.4,351.4 229.9,349.0 228.5,346.4 227.0,343.6 224.3,337.7 221.6,331.4 220.3,328.0 217.8,321.1 216.6,317.5 214.3,310.3 211.1,299.3 208.3,288.3 205.7,277.7 204.3,270.8 202.4,261.1 201.2,254.9 199.8,246.4 198.6,238.7 197.3,229.5 196.6,223.6 196.0,216.7 195.5,210.9 195.4,206.1 195.3,201.2 195.5,197.3 195.9,194.2 196.4,191.8 196.8,190.5 197.2,189.5 197.6,188.5 198.3,187.4 199.3,186.0 200.4,184.8 201.8,183.6 203.2,182.6 206.2,180.9 215.3,176.2 220.4,173.4 223.5,171.5 226.2,169.7 228.7,168.1 231.3,166.2 233.6,164.4 236.0,162.4 238.5,160.2 240.8,158.2 245.0,154.1 249.5,149.1 253.4,144.6 257.5,139.3 264.2,130.4 269.5,122.9 273.6,116.9 278.0,110.2 292.4,87.8 300.8,74.8 304.6,69.1 307.3,65.3 311.5,59.6 315.8,54.2 318.8,50.8 320.4,49.1 323.5,46.0 326.8,43.2 328.4,41.9 330.1,40.7 331.9,39.6 333.6,38.6 335.4,37.7 337.2,37.0 339.1,36.4 341.0,36.0 342.9,35.7 344.9,35.7 346.8,35.8 348.8,36.2 350.7,36.8 352.6,37.5 354.5,38.5 356.3,39.7 358.1,41.0 359.8,42.5 361.5,44.2 363.2,46.1 364.8,48.1 366.4,50.3 368.0,52.7 369.5,55.2 371.0,57.9 372.4,60.7 373.9,63.6 375.3,66.7 376.6,69.9 379.2,76.5 380.4,80.0 382.8,87.1 383.9,90.8 386.1,98.2 389.0,109.4 390.8,116.8 392.4,124.1 393.9,131.3 395.8,141.5 397.0,148.0 398.5,157.0 399.7,165.3 400.7,172.8 401.5,179.5 402.2,185.5 402.6,190.8 403.0,196.9 403.2,202.0 403.1,206.3 402.9,209.8 402.6,212.8 402.2,215.3 401.5,218.0 400.7,220.1 399.9,221.9 398.7,223.6 397.2,225.3 396.3,226.1 395.2,227.0 394.0,227.7 392.6,228.6 389.4,230.2 381.7,233.9 377.3,236.2 372.2,239.1 367.7,242.0 365.1,243.8 362.7,245.5 358.1,249.1 353.6,253.1 349.1,257.4" fill="none" stroke="#1808dc" stroke-opacity="0.3" stroke-width="1.2" stroke-linejoin="round"/>
<line x1="256.2" y1="271.2" x2="265.2" y2="269.7" stroke="#f26a6a" stroke-width="1.9" stroke-linecap="butt"/>

</g>
<line x1="77.7" y1="-0.09999999999999998" x2="77.7" y2="426.7" stroke="#929292" stroke-width="1"/>
<line x1="77.2" y1="426.2" x2="516.5" y2="426.2" stroke="#a2a2a2" stroke-width="1"/>
<line x1="77.2" y1="0.4" x2="516.5" y2="0.4" stroke="#9a9a9a" stroke-width="1"/>
<line x1="515.9" y1="-0.09999999999999998" x2="515.9" y2="426.7" stroke="#b4b4b4" stroke-width="1.2"/>
<line x1="91.3" y1="426.2" x2="91.3" y2="427.7" stroke="#555" stroke-width="0.6"/>
<text x="91.3" y="443.8" font-size="19.8" text-anchor="middle">−0.4</text>
<line x1="194.6" y1="426.2" x2="194.6" y2="427.7" stroke="#555" stroke-width="0.6"/>
<text x="194.6" y="443.8" font-size="19.8" text-anchor="middle">−0.2</text>
<line x1="297.9" y1="426.2" x2="297.9" y2="427.7" stroke="#555" stroke-width="0.6"/>
<text x="297.9" y="443.8" font-size="19.8" text-anchor="middle">0.0</text>
<line x1="401.2" y1="426.2" x2="401.2" y2="427.7" stroke="#555" stroke-width="0.6"/>
<text x="401.2" y="443.8" font-size="19.8" text-anchor="middle">0.2</text>
<line x1="504.5" y1="426.2" x2="504.5" y2="427.7" stroke="#555" stroke-width="0.6"/>
<text x="504.5" y="443.8" font-size="19.8" text-anchor="middle">0.4</text>
<line x1="76.2" y1="411.3" x2="77.7" y2="411.3" stroke="#555" stroke-width="0.6"/>
<text x="75.2" y="417.8" font-size="19.8" text-anchor="end">−0.4</text>
<line x1="76.2" y1="359.6" x2="77.7" y2="359.6" stroke="#555" stroke-width="0.6"/>
<text x="75.2" y="366.1" font-size="19.8" text-anchor="end">−0.3</text>
<line x1="76.2" y1="307.9" x2="77.7" y2="307.9" stroke="#555" stroke-width="0.6"/>
<text x="75.2" y="314.4" font-size="19.8" text-anchor="end">−0.2</text>
<line x1="76.2" y1="256.2" x2="77.7" y2="256.2" stroke="#555" stroke-width="0.6"/>
<text x="75.2" y="262.7" font-size="19.8" text-anchor="end">−0.1</text>
<line x1="76.2" y1="204.5" x2="77.7" y2="204.5" stroke="#555" stroke-width="0.6"/>
<text x="75.2" y="211.0" font-size="19.8" text-anchor="end">0.0</text>
<line x1="76.2" y1="152.8" x2="77.7" y2="152.8" stroke="#555" stroke-width="0.6"/>
<text x="75.2" y="159.3" font-size="19.8" text-anchor="end">0.1</text>
<line x1="76.2" y1="101.1" x2="77.7" y2="101.1" stroke="#555" stroke-width="0.6"/>
<text x="75.2" y="107.6" font-size="19.8" text-anchor="end">0.2</text>
<line x1="76.2" y1="49.4" x2="77.7" y2="49.4" stroke="#555" stroke-width="0.6"/>
<text x="75.2" y="55.9" font-size="19.8" text-anchor="end">0.3</text>
<text x="296.0" y="468.7" font-size="24" font-style="italic" text-anchor="middle">x</text>
<g transform="translate(20.8,213.6) rotate(-90)"><text x="0" y="0" font-size="23" font-style="italic" text-anchor="middle">x</text><ellipse cx="2.1" cy="-20.3" rx="0.85" ry="2.4" fill="#000"/></g>
<rect x="88.9" y="12.1" width="192.2" height="75.9" rx="3.5" fill="#fff" fill-opacity="0.8" stroke="#e8e8e8" stroke-width="1.2"/>
<line x1="98.3" y1="31.1" x2="146.3" y2="31.1" stroke="#e40c1c" stroke-opacity="0.9" stroke-width="1.25"/>
<line x1="98.3" y1="65.7" x2="146.3" y2="65.7" stroke="#1808dc" stroke-opacity="0.28" stroke-width="1.15"/>
<text x="165.9" y="39.0" font-size="23.5">Test data</text>
<text x="165.2" y="73.6" font-size="23.5">DLDMD</text>
</svg></body></html>
